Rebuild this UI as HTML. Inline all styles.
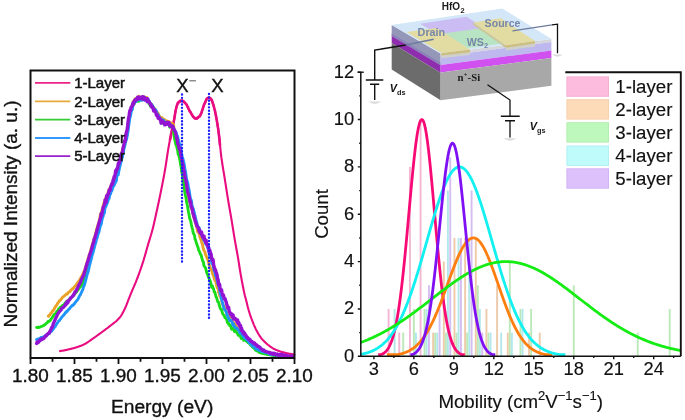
<!DOCTYPE html>
<html><head><meta charset="utf-8"><title>PL spectra and mobility histogram</title>
<style>html,body{margin:0;padding:0;background:#fff;overflow:hidden}body{width:685px;height:420px;position:relative}</style>
</head><body>
<svg width="685" height="420" viewBox="0 0 685 420" style="position:absolute;left:0;top:0;filter:blur(0.35px)">
<rect width="685" height="420" fill="#fff"/>
<g fill="none" stroke-linejoin="round" stroke-linecap="round">
<path d="M60,351.1 L60.6,351 L61.2,350.9 L61.8,350.8 L62.4,350.7 L63,350.6 L63.6,350.5 L64.2,350.4 L64.8,350.2 L65.4,350.1 L66,350 L66.6,349.9 L67.2,349.7 L67.8,349.6 L68.4,349.4 L69,349.3 L69.6,349.2 L70.2,349 L70.8,348.9 L71.4,348.7 L72,348.5 L72.6,348.4 L73.2,348.2 L73.8,348.1 L74.4,347.9 L75,347.7 L75.6,347.5 L76.2,347.4 L76.8,347.2 L77.4,347 L78,346.8 L78.6,346.6 L79.2,346.4 L79.8,346.1 L80.4,345.9 L81,345.7 L81.6,345.5 L82.2,345.2 L82.8,345 L83.4,344.7 L84,344.4 L84.6,344.1 L85.2,343.8 L85.8,343.5 L86.4,343.1 L87,342.7 L87.6,342.3 L88.2,341.9 L88.8,341.5 L89.4,341.1 L90,340.7 L90.6,340.2 L91.2,339.8 L91.8,339.4 L92.4,338.9 L93,338.5 L93.6,338.1 L94.2,337.7 L94.8,337.3 L95.4,336.8 L96,336.4 L96.6,336 L97.2,335.5 L97.8,335.1 L98.4,334.7 L99,334.2 L99.6,333.8 L100.2,333.4 L100.8,332.9 L101.4,332.5 L102,332 L102.6,331.6 L103.2,331.2 L103.8,330.7 L104.4,330.3 L105,329.8 L105.6,329.4 L106.2,328.9 L106.8,328.5 L107.4,328 L108,327.6 L108.6,327.1 L109.2,326.6 L109.8,326.2 L110.4,325.7 L111,325.2 L111.6,324.7 L112.2,324.3 L112.8,323.8 L113.4,323.4 L114,322.9 L114.6,322.4 L115.2,322 L115.8,321.5 L116.4,321 L117,320.4 L117.6,319.8 L118.2,319.2 L118.8,318.6 L119.4,317.9 L120,317.2 L120.6,316.4 L121.2,315.5 L121.8,314.5 L122.4,313.5 L123,312.3 L123.6,311.2 L124.2,310 L124.8,308.8 L125.4,307.5 L126,306.1 L126.6,304.7 L127.2,303.1 L127.8,301.5 L128.4,299.9 L129,298.3 L129.6,296.8 L130.2,295.3 L130.8,293.8 L131.4,292.4 L132,291 L132.6,289.6 L133.2,288.2 L133.8,286.8 L134.4,285.4 L135,284 L135.6,282.6 L136.2,281.1 L136.8,279.5 L137.4,278 L138,276.4 L138.6,274.8 L139.2,273.1 L139.8,271.5 L140.4,269.8 L141,268 L141.6,266.3 L142.2,264.5 L142.8,262.6 L143.4,260.8 L144,258.8 L144.6,256.8 L145.2,254.7 L145.8,252.6 L146.4,250.5 L147,248.3 L147.6,246.2 L148.2,244.1 L148.8,242.1 L149.4,240.1 L150,238.2 L150.6,236.2 L151.2,234.3 L151.8,232.2 L152.4,230 L153,227.7 L153.6,225.2 L154.2,222.6 L154.8,220 L155.4,217.3 L156,214.6 L156.6,211.8 L157.2,209.1 L157.8,206.3 L158.4,203.5 L159,200.7 L159.6,197.8 L160.2,194.9 L160.8,192 L161.4,189 L162,186 L162.6,182.9 L163.2,179.8 L163.8,176.7 L164.4,173.4 L165,170 L165.6,166.4 L166.2,162.5 L166.8,158.5 L167.4,154.5 L168,150.7 L168.6,147.1 L169.2,143.8 L169.8,140.8 L170.4,137.8 L171,134.9 L171.6,131.9 L172.2,129 L172.8,126.1 L173.4,123.2 L174,120.2 L174.6,116.9 L175.2,113.2 L175.8,109.7 L176.4,107.3 L177,105.5 L177.6,104 L178.2,102.8 L178.8,102.3 L179.4,101.8 L180,101.5 L180.6,101.2 L181.2,101 L181.8,100.9 L182.4,100.9 L183,101.1 L183.6,101.5 L184.2,102 L184.8,102.6 L185.4,103.3 L186,104 L186.6,104.8 L187.2,105.9 L187.8,107.2 L188.4,108.4 L189,109.6 L189.6,110.8 L190.2,111.7 L190.8,112.7 L191.4,113.7 L192,114.7 L192.6,115.7 L193.2,116.6 L193.8,117.4 L194.4,118 L195,118.4 L195.6,118.6 L196.2,118.5 L196.8,118.4 L197.4,118 L198,117.6 L198.6,117.1 L199.2,116.5 L199.8,115.9 L200.4,115.1 L201,113.9 L201.6,112.3 L202.2,110.4 L202.8,108.5 L203.4,106.6 L204,105 L204.6,103.6 L205.2,102.2 L205.8,100.8 L206.4,99.5 L207,98.5 L207.6,98 L208.2,97.9 L208.8,98 L209.4,98.1 L210,98.3 L210.6,98.6 L211.2,99.1 L211.8,100.3 L212.4,101.9 L213,103.8 L213.6,105.7 L214.2,107.8 L214.8,110.3 L215.4,113.1 L216,116.1 L216.6,119.2 L217.2,122.7 L217.8,126.5 L218.4,130.7 L219,135.6 L219.6,141.2 L220.2,146.9 L220.8,152.5 L221.4,157.5 L222,161.7 L222.6,165.6 L223.2,169.3 L223.8,172.9 L224.4,176.5 L225,180.3 L225.6,184.1 L226.2,188 L226.8,191.9 L227.4,195.7 L228,199.4 L228.6,203 L229.2,206.4 L229.8,209.8 L230.4,213.2 L231,216.6 L231.6,220.2 L232.2,223.9 L232.8,227.6 L233.4,231.4 L234,235.1 L234.6,238.7 L235.2,242.1 L235.8,245.4 L236.4,248.7 L237,252 L237.6,255.4 L238.2,258.9 L238.8,262.6 L239.4,266.5 L240,270.3 L240.6,273.9 L241.2,277.3 L241.8,280.6 L242.4,283.8 L243,286.8 L243.6,289.8 L244.2,292.6 L244.8,295.2 L245.4,297.5 L246,299.7 L246.6,302.1 L247.2,304.6 L247.8,307.1 L248.4,309.3 L249,311.3 L249.6,313.2 L250.2,315.1 L250.8,316.8 L251.4,318.5 L252,320.1 L252.6,321.6 L253.2,323.1 L253.8,324.6 L254.4,326 L255,327.3 L255.6,328.6 L256.2,329.8 L256.8,330.9 L257.4,332.1 L258,333.1 L258.6,334.2 L259.2,335.2 L259.8,336.1 L260.4,337 L261,337.8 L261.6,338.6 L262.2,339.3 L262.8,340 L263.4,340.6 L264,341.2 L264.6,341.8 L265.2,342.4 L265.8,342.9 L266.4,343.5 L267,344 L267.6,344.5 L268.2,345 L268.8,345.4 L269.4,345.9 L270,346.4 L270.6,346.8 L271.2,347.2 L271.8,347.6 L272.4,348 L273,348.4 L273.6,348.7 L274.2,349.1 L274.8,349.3 L275.4,349.6 L276,349.9 L276.6,350.1 L277.2,350.4 L277.8,350.6 L278.4,350.8 L279,351.1 L279.6,351.3 L280.2,351.5 L280.8,351.7 L281.4,351.8 L282,352 L282.6,352.2 L283.2,352.3 L283.8,352.5 L284.4,352.6 L285,352.8 L285.6,352.9 L286.2,353.1 L286.8,353.2 L287.4,353.3 L288,353.5 L288.6,353.6 L289.2,353.7 L289.8,353.8 L290.4,353.9 L291,354 L291.6,354.1 L292.2,354.2 L292.8,354.3 L293.4,354.4 L294,354.5 L294.3,354.5" stroke="#E90C80" stroke-width="2.1"/>
<path d="M170,139.8 L170.4,137.9 L170.8,135.8 L171.2,133.6 L171.6,131.8 L172,129.6 L172.4,128 L172.8,126.5 L173.2,124 L173.6,122 L174,120.3 L174.4,118.2 L174.8,115.7 L175.2,112.9 L175.6,110.8 L176,109 L176.4,106.9 L176.8,105.9 L177.2,104.4 L177.6,103.6 L178,102.6 L178.4,102.5 L178.8,101.9 L179.2,102.1 L179.6,101.8 L180,101.4 L180.4,100.5 L180.8,101 L181.2,101 L181.6,101 L182,100.4 L182.4,100.8 L182.8,100.8 L183.2,101 L183.6,101.9 L184,101.6 L184.4,102.2 L184.8,102.9 L185.2,102.9 L185.6,103.5 L186,104 L186.4,104.5 L186.8,104.8 L187.2,106 L187.6,107.1 L188,107.1 L188.4,108.7 L188.8,109.3 L189.2,109.8 L189.6,111.4 L190,111.6 L190.4,111.7 L190.8,112.7 L191.2,113.5 L191.6,114 L192,114.9 L192.4,115.3 L192.8,116.2 L193.2,117 L193.6,116.9 L194,117.7 L194.4,117.9 L194.8,118.3 L195.2,118.1 L195.6,118.4 L196,118.5 L196.4,118.8 L196.8,118.7 L197.2,117.8 L197.6,117.7 L198,117.8 L198.4,116.7 L198.8,116.8 L199.2,116.5 L199.6,116.5 L200,115.9 L200.4,115 L200.8,114.2 L201.2,113.3 L201.6,112.7 L202,110.9 L202.4,109.7 L202.8,108.6 L203.2,107.2 L203.6,106 L204,104.7 L204.4,104.1 L204.8,103 L205.2,102.6 L205.6,101.5 L206,100.4 L206.4,99.7 L206.8,98.7 L207.2,98.6 L207.6,98 L208,98.1 L208.4,97.5 L208.8,98.1 L209.2,97.6 L209.6,97.6 L210,98.2 L210.4,98.2 L210.8,98.7 L211.2,99.8 L211.6,99.6 L212,100.6 L212.4,101.9 L212.8,103.3 L213.2,104.4 L213.6,105.6 L214,107.3 L214.4,108.8 L214.8,110 L215.2,112.1 L215.6,114.1 L216,115.8 L216.4,118.2 L216.8,120.1 L217.2,123 L217.6,125.3 L218,127.9 L218.4,130.6 L218.8,133.9 L219.2,136.8 L219.6,140.8 L220,145.1" stroke="#E90C80" stroke-width="2.6"/>
<path d="M48.2,316.2 L48.8,316.3 L49.4,314.8 L50,314.8 L50.6,313.5 L51.2,313.2 L51.8,312.2 L52.4,310.9 L53,310.9 L53.6,310.1 L54.2,308.8 L54.8,307.8 L55.4,306.9 L56,305.8 L56.6,305.4 L57.2,304 L57.8,303.3 L58.4,302.3 L59,301.5 L59.6,300.6 L60.2,300.5 L60.8,299.4 L61.4,299 L62,298.1 L62.6,297.3 L63.2,296.9 L63.8,296.3 L64.4,295.9 L65,295.3 L65.6,294.9 L66.2,294.1 L66.8,293.8 L67.4,294 L68,292.8 L68.6,292.2 L69.2,292 L69.8,291.8 L70.4,290.5 L71,290.3 L71.6,289.6 L72.2,288.7 L72.8,288.8 L73.4,288 L74,287.4 L74.6,286.5 L75.2,286.2 L75.8,285.2 L76.4,284.6 L77,283.5 L77.6,282.7 L78.2,282.5 L78.8,281.1 L79.4,280.3 L80,279.3 L80.6,278.1 L81.2,277.1 L81.8,276.3 L82.4,274.9 L83,273.7 L83.6,272.4 L84.2,271.3 L84.8,269.6 L85.4,267.7 L86,265.5 L86.6,263.3 L87.2,261.9 L87.8,259.9 L88.4,257.7 L89,255.8 L89.6,253.9 L90.2,251.9 L90.8,249.8 L91.4,247.4 L92,245.8 L92.6,243 L93.2,241.6 L93.8,239.4 L94.4,237.5 L95,235.8 L95.6,233.7 L96.2,230.9 L96.8,228.7 L97.4,227.3 L98,224.7 L98.6,222.8 L99.2,220.8 L99.8,217.8 L100.4,214.3 L101,213.9 L101.6,211.5 L102.2,209.1 L102.8,207.4 L103.4,204.8 L104,202.5 L104.6,201.9 L105.2,199.7 L105.8,197.6 L106.4,197.8 L107,195.8 L107.6,194.6 L108.2,192 L108.8,190.8 L109.4,189 L110,187.7 L110.6,187.1 L111.2,184.9 L111.8,184.3 L112.4,182.9 L113,182.7 L113.6,178.4 L114.2,178.7 L114.8,176.3 L115.4,174.7 L116,171.9 L116.6,171 L117.2,170.2 L117.8,167.8 L118.4,166.1 L119,163.9 L119.6,163.1 L120.2,160.1 L120.8,156.2 L121.4,155.2 L122,151.9 L122.6,148.5 L123.2,148.2 L123.8,147.3 L124.4,143.8 L125,140.3 L125.6,137.9 L126.2,136.8 L126.8,133 L127.4,129.5 L128,125.2 L128.6,120.8 L129.2,117.7 L129.8,114.6 L130.4,111.7 L131,108.3 L131.6,107.5 L132.2,104.8 L132.8,104.6 L133.4,101.3 L134,100.9 L134.6,100.2 L135.2,98.7 L135.8,100.8 L136.4,100.3 L137,98.6 L137.6,99.4 L138.2,98.9 L138.8,96.3 L139.4,98.5 L140,98.1 L140.6,98.1 L141.2,97 L141.8,97.5 L142.4,97.4 L143,98.3 L143.6,97.4 L144.2,97.1 L144.8,98.5 L145.4,97.2 L146,97.8 L146.6,97.3 L147.2,100.5 L147.8,100.7 L148.4,101.3 L149,101.9 L149.6,102.3 L150.2,103.1 L150.8,103.6 L151.4,104.4 L152,105.4 L152.6,107.5 L153.2,107.5 L153.8,107.9 L154.4,108.3 L155,109.1 L155.6,111.7 L156.2,111.7 L156.8,112.2 L157.4,112.7 L158,112.9 L158.6,114.6 L159.2,116.3 L159.8,116.3 L160.4,117.3 L161,118 L161.6,118.7 L162.2,117.8 L162.8,119.2 L163.4,119 L164,120.7 L164.6,119.6 L165.2,121 L165.8,122 L166.4,120.8 L167,120.9 L167.6,121.8 L168.2,121.9 L168.8,121.4 L169.4,122.9 L170,124.5 L170.6,123 L171.2,123.4 L171.8,123.1 L172.4,124.7 L173,124 L173.6,125 L174.2,129.1 L174.8,130.4 L175.4,134.6 L176,137.7 L176.6,139.5 L177.2,142.3 L177.8,145.9 L178.4,146.6 L179,148.7 L179.6,150.6 L180.2,154.2 L180.8,157.9 L181.4,160.2 L182,161.8 L182.6,165.2 L183.2,168.7 L183.8,172.5 L184.4,175.3 L185,178.8 L185.6,181.9 L186.2,184.5 L186.8,187.8 L187.4,191 L188,193.6 L188.6,196.9 L189.2,200.7 L189.8,202.2 L190.4,204.2 L191,205.1 L191.6,209.1 L192.2,209.5 L192.8,212.1 L193.4,216.2 L194,218.2 L194.6,219.7 L195.2,220.5 L195.8,223.7 L196.4,225.5 L197,228.5 L197.6,231.8 L198.2,232 L198.8,233.1 L199.4,234.7 L200,237.4 L200.6,239.1 L201.2,240.2 L201.8,243 L202.4,243.8 L203,247.4 L203.6,249.2 L204.2,251 L204.8,251.5 L205.4,254.1 L206,255.4 L206.6,256.9 L207.2,258.7 L207.8,259.7 L208.4,261.2 L209,264.7 L209.6,265.5 L210.2,267.4 L210.8,269.6 L211.4,269 L212,271.3 L212.6,273.7 L213.2,275.5 L213.8,276.6 L214.4,279.4 L215,280.6 L215.6,281.2 L216.2,283.3 L216.8,286.5 L217.4,288.1 L218,288 L218.6,292.4 L219.2,293.7 L219.8,296.1 L220.4,296.6 L221,298.4 L221.6,299.4 L222.2,303.9 L222.8,303.3 L223.4,306.3 L224,306 L224.6,308.1 L225.2,308 L225.8,310.3 L226.4,312.7 L227,312.1 L227.6,315.2 L228.2,315.7 L228.8,315.7 L229.4,317.1 L230,318.1 L230.6,319.4 L231.2,319.8 L231.8,320.4 L232.4,321.6 L233,321.8 L233.6,322.3 L234.2,324.1 L234.8,325.5 L235.4,324.3 L236,326.3 L236.6,326.5 L237.2,327 L237.8,329.2 L238.4,328.9 L239,331.2 L239.6,330.2 L240.2,331.9 L240.8,332.2 L241.4,332.5 L242,334.3 L242.6,334.5 L243.2,335.8 L243.8,336 L244.4,335.9 L245,337.4 L245.6,338.1 L246.2,339 L246.8,339.2 L247.4,340.1 L248,340.3 L248.6,341.6 L249.2,341.8 L249.8,342.2 L250.4,343.3 L251,344.2 L251.6,344 L252.2,344.7 L252.8,345.3 L253.4,345.7 L254,346.6 L254.6,346.7 L255.2,347.2 L255.8,348 L256.4,348 L257,348.7 L257.6,348.7 L258.2,349 L258.8,349.2 L259.4,350.5 L260,350.2 L260.6,350.7 L261.2,350.9 L261.8,351.2 L262.4,351.4 L263,352.1 L263.6,351.5 L264.2,351.5 L264.8,351.9 L265.4,352 L266,352.8 L266.6,353 L267.2,352.6 L267.8,352.7 L268.4,353.1 L269,353.8 L269.6,352.7 L270.2,353.8 L270.8,353.5 L271.4,354.2 L272,353.7 L272.6,354.1 L273.2,353.8 L273.8,354.1 L274.4,354.9 L275,354.8 L275.6,354.6 L276.2,354.5 L276.8,354.3 L277.4,354.8 L278,355 L278.6,355.1 L279.2,355.2 L279.8,355 L280.4,355.4 L281,355.5 L281.6,355.9 L282.2,356.2 L282.8,355.7 L283.4,355.6 L284,355.9 L284.6,355.8 L285.2,355.8 L285.8,356.1 L286.4,355.9 L287,356.4 L287.6,356.3 L288.2,356.4 L288.8,356.3 L289.4,356.2 L290,356.2 L290.6,356.4 L291.2,356.4 L291.8,356.6 L292.4,356.6 L293,356.2 L293,356.6" stroke="#EAA226" stroke-width="2.85"/>
<path d="M36.6,327.4 L37.2,327.6 L37.8,327.6 L38.4,327 L39,327.5 L39.6,327.3 L40.2,327 L40.8,326.7 L41.4,326.5 L42,326.1 L42.6,326.1 L43.2,325.7 L43.8,325.5 L44.4,324.7 L45,324.7 L45.6,324.1 L46.2,323.5 L46.8,322.9 L47.4,322.6 L48,321.5 L48.6,321.7 L49.2,321.2 L49.8,320.8 L50.4,320.2 L51,319.1 L51.6,318.4 L52.2,317.7 L52.8,316.8 L53.4,315.9 L54,314.7 L54.6,314.5 L55.2,314 L55.8,313.2 L56.4,312.3 L57,311.1 L57.6,311 L58.2,310 L58.8,308.6 L59.4,308.8 L60,307.6 L60.6,307 L61.2,306.6 L61.8,306.6 L62.4,305.5 L63,305.2 L63.6,305 L64.2,304.4 L64.8,303.4 L65.4,302.9 L66,302 L66.6,301.7 L67.2,301.4 L67.8,300.9 L68.4,300.2 L69,299.9 L69.6,298.8 L70.2,298.5 L70.8,298.1 L71.4,297.5 L72,297 L72.6,296.3 L73.2,295.5 L73.8,295 L74.4,294 L75,293.1 L75.6,293.1 L76.2,292.2 L76.8,291.6 L77.4,290.4 L78,290 L78.6,289.2 L79.2,288.3 L79.8,287.1 L80.4,286.7 L81,286.1 L81.6,284.9 L82.2,283.5 L82.8,282.4 L83.4,281.2 L84,278.7 L84.6,277.9 L85.2,276.4 L85.8,274.8 L86.4,273.3 L87,271.2 L87.6,268.9 L88.2,266.7 L88.8,264.6 L89.4,262 L90,260 L90.6,258.1 L91.2,256.3 L91.8,253.6 L92.4,251.5 L93,249.4 L93.6,247.6 L94.2,245.1 L94.8,243.3 L95.4,240.5 L96,238.6 L96.6,236.5 L97.2,234.6 L97.8,232.5 L98.4,229.6 L99,227.6 L99.6,225.7 L100.2,222.8 L100.8,219.8 L101.4,219.4 L102,216.6 L102.6,214.2 L103.2,211.2 L103.8,210.2 L104.4,207.1 L105,206.3 L105.6,202.9 L106.2,201.2 L106.8,200.4 L107.4,198 L108,197.5 L108.6,195.6 L109.2,193.1 L109.8,192.2 L110.4,190.3 L111,189.8 L111.6,187 L112.2,185.6 L112.8,185.4 L113.4,184.7 L114,182.9 L114.6,179.7 L115.2,178.1 L115.8,177.4 L116.4,174.2 L117,171.7 L117.6,170.6 L118.2,169 L118.8,165.9 L119.4,163.3 L120,161.4 L120.6,160.9 L121.2,157.6 L121.8,155.8 L122.4,153.8 L123,151.8 L123.6,148.6 L124.2,146.8 L124.8,143.2 L125.4,141.1 L126,137.9 L126.6,136.7 L127.2,132.7 L127.8,128.2 L128.4,124.1 L129,120 L129.6,117.6 L130.2,112.9 L130.8,110.9 L131.4,109.2 L132,109.6 L132.6,106.7 L133.2,104.3 L133.8,103.6 L134.4,103.6 L135,101.1 L135.6,100.6 L136.2,101.6 L136.8,100.8 L137.4,100.8 L138,99.7 L138.6,101.4 L139.2,101.1 L139.8,100 L140.4,100 L141,97.7 L141.6,99.7 L142.2,98.8 L142.8,99.1 L143.4,99.2 L144,98.2 L144.6,97.2 L145.2,99.1 L145.8,98.7 L146.4,99.6 L147,99.9 L147.6,100.7 L148.2,99.8 L148.8,103.4 L149.4,103.4 L150,104.9 L150.6,106.4 L151.2,105.6 L151.8,104.9 L152.4,106.4 L153,107 L153.6,108.4 L154.2,109.8 L154.8,109.1 L155.4,112.1 L156,111.7 L156.6,114.3 L157.2,115 L157.8,115.9 L158.4,117 L159,117.6 L159.6,118.5 L160.2,118.5 L160.8,120.6 L161.4,122.7 L162,123.2 L162.6,123.1 L163.2,122.9 L163.8,122.1 L164.4,124.1 L165,123.1 L165.6,123.4 L166.2,123.5 L166.8,124.1 L167.4,123.9 L168,124.5 L168.6,124 L169.2,124.8 L169.8,127.3 L170.4,125.8 L171,125.9 L171.6,126.7 L172.2,127.2 L172.8,126.3 L173.4,128 L174,135.7 L174.6,139.1 L175.2,141.6 L175.8,144.7 L176.4,145 L177,148.2 L177.6,150.4 L178.2,154.6 L178.8,154.4 L179.4,158 L180,160.7 L180.6,164.5 L181.2,167.8 L181.8,172.3 L182.4,174.2 L183,180.3 L183.6,183.5 L184.2,187.3 L184.8,192.4 L185.4,195.2 L186,197.8 L186.6,202.3 L187.2,204.4 L187.8,208 L188.4,211.6 L189,214.3 L189.6,218.2 L190.2,219.6 L190.8,221.4 L191.4,224.8 L192,227.3 L192.6,229.4 L193.2,232.9 L193.8,234.1 L194.4,235 L195,239 L195.6,240.2 L196.2,242.4 L196.8,244 L197.4,246.1 L198,247.3 L198.6,249.9 L199.2,250.9 L199.8,252.5 L200.4,254.3 L201,254.5 L201.6,257.3 L202.2,259.1 L202.8,261.3 L203.4,261.8 L204,266 L204.6,266.6 L205.2,267.3 L205.8,268.7 L206.4,271.5 L207,273.3 L207.6,274.4 L208.2,276.5 L208.8,277.5 L209.4,279.9 L210,280.4 L210.6,282.4 L211.2,284.7 L211.8,287.4 L212.4,285.9 L213,287.8 L213.6,289 L214.2,291.9 L214.8,292.1 L215.4,294.4 L216,296.7 L216.6,297.8 L217.2,299.7 L217.8,301.8 L218.4,302.1 L219,304.1 L219.6,306.3 L220.2,308.1 L220.8,309.2 L221.4,309.2 L222,311.4 L222.6,313.6 L223.2,314.6 L223.8,315.2 L224.4,315.6 L225,317.9 L225.6,318 L226.2,318.5 L226.8,319.8 L227.4,322.6 L228,322.5 L228.6,324.2 L229.2,323.8 L229.8,325.8 L230.4,325.3 L231,326.5 L231.6,329.3 L232.2,328.7 L232.8,328.3 L233.4,329.3 L234,330.3 L234.6,331.6 L235.2,330.8 L235.8,330.4 L236.4,332.2 L237,333 L237.6,333.6 L238.2,335.1 L238.8,334.8 L239.4,335.8 L240,334.8 L240.6,336.9 L241.2,338.5 L241.8,337.9 L242.4,338 L243,338.5 L243.6,340.3 L244.2,338.6 L244.8,339.7 L245.4,340.4 L246,341 L246.6,341.2 L247.2,341.9 L247.8,342.3 L248.4,342.9 L249,343.3 L249.6,343.6 L250.2,344.5 L250.8,345.3 L251.4,345.5 L252,346.3 L252.6,347.2 L253.2,347.3 L253.8,348.2 L254.4,348.4 L255,349.5 L255.6,350.3 L256.2,350.6 L256.8,350.4 L257.4,351.1 L258,351.3 L258.6,351.7 L259.2,352.4 L259.8,351.9 L260.4,352.8 L261,352.7 L261.6,353.3 L262.2,353.1 L262.8,353.1 L263.4,353.5 L264,353.8 L264.6,353.7 L265.2,354 L265.8,353.8 L266.4,353.5 L267,354.5 L267.6,354.5 L268.2,354.5 L268.8,354.5 L269.4,354.9 L270,354.6 L270.6,354.6 L271.2,354.8 L271.8,355.3 L272.4,354.7 L273,355.5 L273.6,355 L274.2,355 L274.8,355.7 L275.4,355.4 L276,355.2 L276.6,355.5 L277.2,355.9 L277.8,356.1 L278.4,355.7 L279,356 L279.6,356.2 L280.2,355.9 L280.8,356.2 L281.4,356.2 L282,356.1 L282.6,356.2 L283.2,356.4 L283.8,356.4 L284.4,356.3 L285,356.4 L285.6,356.9 L286.2,356.7 L286.8,356.9 L287.4,357.1 L288,356.9 L288.6,357.5 L289.2,356.6 L289.8,357.1 L290.4,356.8 L291,357.5 L291.6,357.4 L292.2,356.4 L292.8,356.7 L293,357.2" stroke="#18DC18" stroke-width="2.85"/>
<path d="M36.6,339.5 L37.2,339.4 L37.8,339 L38.4,339 L39,338.9 L39.6,338.5 L40.2,338.6 L40.8,337.4 L41.4,338 L42,337.3 L42.6,337.6 L43.2,337 L43.8,336.5 L44.4,336.6 L45,335.8 L45.6,335.5 L46.2,334.9 L46.8,334.9 L47.4,334.6 L48,334.3 L48.6,333.5 L49.2,333.4 L49.8,332.6 L50.4,332 L51,331.6 L51.6,331.2 L52.2,330.2 L52.8,329.5 L53.4,328.8 L54,328 L54.6,326.9 L55.2,326.6 L55.8,325.2 L56.4,324.6 L57,323.3 L57.6,322.7 L58.2,321.8 L58.8,320.8 L59.4,320.6 L60,319.4 L60.6,319.1 L61.2,318.1 L61.8,317 L62.4,316.4 L63,315.9 L63.6,315.2 L64.2,314.5 L64.8,313.8 L65.4,312.7 L66,312.5 L66.6,311.3 L67.2,311.4 L67.8,310.4 L68.4,309.7 L69,309.2 L69.6,308.7 L70.2,307.6 L70.8,306.9 L71.4,306.5 L72,305.6 L72.6,305.3 L73.2,305.3 L73.8,304 L74.4,303.8 L75,302.5 L75.6,302.2 L76.2,301.3 L76.8,300.6 L77.4,299.9 L78,299.3 L78.6,297.9 L79.2,296.8 L79.8,295.4 L80.4,294.7 L81,293.2 L81.6,292.2 L82.2,290.6 L82.8,289.7 L83.4,287.2 L84,286 L84.6,284.5 L85.2,282.1 L85.8,279.8 L86.4,277.7 L87,275.1 L87.6,273.3 L88.2,271.7 L88.8,269 L89.4,266 L90,263.6 L90.6,261.4 L91.2,259.4 L91.8,256.7 L92.4,254.5 L93,252.8 L93.6,250.7 L94.2,248.2 L94.8,245.9 L95.4,243.7 L96,241.8 L96.6,239.2 L97.2,237.9 L97.8,235.3 L98.4,233.5 L99,231.7 L99.6,229.3 L100.2,225.9 L100.8,225.4 L101.4,223.5 L102,219.8 L102.6,217.5 L103.2,216.1 L103.8,212.7 L104.4,213.1 L105,208 L105.6,207.1 L106.2,205.9 L106.8,204.1 L107.4,202.7 L108,201.1 L108.6,199 L109.2,198.5 L109.8,194.3 L110.4,194.4 L111,192.2 L111.6,191.3 L112.2,189.9 L112.8,187.5 L113.4,186.2 L114,185.9 L114.6,184 L115.2,181.6 L115.8,182.2 L116.4,180.6 L117,175.8 L117.6,175.2 L118.2,175 L118.8,171.5 L119.4,168.8 L120,166.2 L120.6,163.6 L121.2,161.5 L121.8,158.8 L122.4,157.3 L123,153.7 L123.6,151 L124.2,147.7 L124.8,146 L125.4,142.7 L126,140.8 L126.6,139.2 L127.2,135.8 L127.8,132.8 L128.4,128.8 L129,124.1 L129.6,119.8 L130.2,116.5 L130.8,114.5 L131.4,110.5 L132,110.2 L132.6,107.3 L133.2,105 L133.8,103.7 L134.4,102.2 L135,101.8 L135.6,100.4 L136.2,101.6 L136.8,99.7 L137.4,98.3 L138,99.4 L138.6,98.2 L139.2,99.6 L139.8,100.3 L140.4,99.8 L141,98.1 L141.6,98.4 L142.2,100.3 L142.8,98.9 L143.4,98.5 L144,99.2 L144.6,100.2 L145.2,99.3 L145.8,98.6 L146.4,99.2 L147,100 L147.6,99.6 L148.2,99.8 L148.8,101.4 L149.4,101.3 L150,102.8 L150.6,103.7 L151.2,106.3 L151.8,104.6 L152.4,105.9 L153,106.7 L153.6,108 L154.2,109.4 L154.8,109.1 L155.4,109.8 L156,110.2 L156.6,111.9 L157.2,114.2 L157.8,114.9 L158.4,115 L159,116.5 L159.6,117.8 L160.2,119.1 L160.8,119.1 L161.4,120.1 L162,119.5 L162.6,120.4 L163.2,123 L163.8,120.3 L164.4,122.1 L165,122.8 L165.6,122.6 L166.2,122.5 L166.8,123.4 L167.4,123.7 L168,123.9 L168.6,122.8 L169.2,124.4 L169.8,124.2 L170.4,124.7 L171,125.7 L171.6,126.4 L172.2,127 L172.8,126.4 L173.4,128.1 L174,128.9 L174.6,129.7 L175.2,131.2 L175.8,131.6 L176.4,133.3 L177,135.9 L177.6,136.1 L178.2,139.5 L178.8,141.1 L179.4,143.5 L180,144.9 L180.6,148 L181.2,151.2 L181.8,154.5 L182.4,157.1 L183,158.9 L183.6,161.7 L184.2,164.2 L184.8,168.3 L185.4,171 L186,175 L186.6,179.3 L187.2,181.1 L187.8,183.1 L188.4,186.8 L189,189.4 L189.6,192.7 L190.2,197.5 L190.8,199.4 L191.4,200.5 L192,204.7 L192.6,207.6 L193.2,208.6 L193.8,210.5 L194.4,213 L195,215.7 L195.6,218.1 L196.2,220.7 L196.8,222.8 L197.4,224.8 L198,226.8 L198.6,228 L199.2,227.8 L199.8,230.4 L200.4,232.2 L201,232.9 L201.6,235.2 L202.2,235.5 L202.8,236.3 L203.4,239.5 L204,240.1 L204.6,241 L205.2,242.8 L205.8,244.2 L206.4,245 L207,244.4 L207.6,247.5 L208.2,249.6 L208.8,251.1 L209.4,254 L210,256.9 L210.6,257.5 L211.2,259 L211.8,263.6 L212.4,263.7 L213,265.1 L213.6,268.4 L214.2,270.7 L214.8,271.9 L215.4,275.2 L216,276.3 L216.6,278 L217.2,280.9 L217.8,283.4 L218.4,284.4 L219,287.3 L219.6,289.3 L220.2,294.3 L220.8,294.4 L221.4,299.1 L222,300.8 L222.6,303.2 L223.2,305.8 L223.8,307.6 L224.4,309.4 L225,310 L225.6,310.6 L226.2,311.9 L226.8,314.1 L227.4,315.4 L228,317.4 L228.6,317.8 L229.2,319.5 L229.8,320.9 L230.4,320.7 L231,320.3 L231.6,321.3 L232.2,321.9 L232.8,325 L233.4,323.8 L234,326.1 L234.6,326.3 L235.2,327.8 L235.8,327.9 L236.4,327.7 L237,328.3 L237.6,329.3 L238.2,330.1 L238.8,330.2 L239.4,331.3 L240,333.4 L240.6,331.4 L241.2,333.7 L241.8,333.5 L242.4,335 L243,336.3 L243.6,336.2 L244.2,337.6 L244.8,336.4 L245.4,338.6 L246,338.8 L246.6,339.7 L247.2,340.3 L247.8,340.2 L248.4,341.3 L249,342.2 L249.6,343.2 L250.2,343.5 L250.8,344.1 L251.4,344.2 L252,345.6 L252.6,346.2 L253.2,346.3 L253.8,346.7 L254.4,346.7 L255,347.8 L255.6,348.8 L256.2,348.6 L256.8,349.2 L257.4,349.3 L258,349.3 L258.6,350.3 L259.2,349.9 L259.8,350.5 L260.4,350.9 L261,351.3 L261.6,351.5 L262.2,351.7 L262.8,351.6 L263.4,351.6 L264,352.2 L264.6,352.2 L265.2,352.2 L265.8,352.4 L266.4,352.8 L267,352.6 L267.6,352.9 L268.2,352.9 L268.8,353.6 L269.4,353.8 L270,354.4 L270.6,353.5 L271.2,353.9 L271.8,354.5 L272.4,354.3 L273,354.3 L273.6,355 L274.2,354.5 L274.8,354.4 L275.4,354.5 L276,355 L276.6,355.1 L277.2,354.7 L277.8,354.9 L278.4,355.5 L279,355.6 L279.6,355.3 L280.2,355.7 L280.8,355.8 L281.4,355.2 L282,355.7 L282.6,356 L283.2,355.8 L283.8,355.5 L284.4,356.1 L285,356.4 L285.6,356.7 L286.2,355.7 L286.8,357.1 L287.4,356.1 L288,356.8 L288.6,356.9 L289.2,356.9 L289.8,356.7 L290.4,356.4 L291,356.9 L291.6,356.5 L292.2,356.1 L292.8,357.6 L293,357" stroke="#1E94FA" stroke-width="2.85"/>
<path d="M36.6,343.5 L37.1,342.1 L37.6,342.8 L38.1,342.5 L38.6,342.1 L39.1,341.2 L39.6,340.4 L40.1,340.5 L40.6,339.3 L41.1,339.2 L41.6,339.5 L42.1,338.7 L42.6,338.7 L43.1,338.3 L43.6,338.7 L44.1,338 L44.6,337.1 L45.1,337.1 L45.6,335.9 L46.1,335.7 L46.6,335.7 L47.1,334.4 L47.6,334.3 L48.1,333.4 L48.6,333.4 L49.1,333.4 L49.6,331.8 L50.1,331.4 L50.6,330.1 L51.1,328.9 L51.6,327.6 L52.1,327.4 L52.6,326.4 L53.1,324.5 L53.6,322.8 L54.1,322.2 L54.6,320.6 L55.1,319.8 L55.6,318.5 L56.1,317.4 L56.6,316.5 L57.1,315.1 L57.6,314.3 L58.1,313.1 L58.6,312.8 L59.1,311.7 L59.6,311.5 L60.1,310.6 L60.6,310.4 L61.1,309.9 L61.6,308.5 L62.1,308.2 L62.6,307.5 L63.1,307.5 L63.6,307.3 L64.1,306.4 L64.6,305.4 L65.1,305.5 L65.6,303.8 L66.1,304.4 L66.6,303 L67.1,301.6 L67.6,303.1 L68.1,302.1 L68.6,300.5 L69.1,300.3 L69.6,299.6 L70.1,299.1 L70.6,297.9 L71.1,297.6 L71.6,297.4 L72.1,296.7 L72.6,296.4 L73.1,295.3 L73.6,295.5 L74.1,293.6 L74.6,293.2 L75.1,291.6 L75.6,291.1 L76.1,291.2 L76.6,289.4 L77.1,289.1 L77.6,287.9 L78.1,286.5 L78.6,285.8 L79.1,284.7 L79.6,283.7 L80.1,283.1 L80.6,281.9 L81.1,280.4 L81.6,279.1 L82.1,278.3 L82.6,277 L83.1,276.1 L83.6,275.5 L84.1,273.4 L84.6,271.7 L85.1,270.2 L85.6,268.4 L86.1,266.7 L86.6,265 L87.1,263.6 L87.6,261.9 L88.1,260.6 L88.6,258.5 L89.1,256.9 L89.6,254.8 L90.1,254.3 L90.6,252.1 L91.1,250.9 L91.6,248.8 L92.1,247.4 L92.6,245 L93.1,243.6 L93.6,242.7 L94.1,239.5 L94.6,238.7 L95.1,237.3 L95.6,235.1 L96.1,233.5 L96.6,232 L97.1,229.6 L97.6,228.3 L98.1,226.1 L98.6,224.4 L99.1,222.6 L99.6,220.9 L100.1,219.2 L100.6,217.7 L101.1,213.6 L101.6,215.6 L102.1,212.8 L102.6,210.5 L103.1,207.6 L103.6,206.3 L104.1,205.5 L104.6,203.8 L105.1,200 L105.6,201.4 L106.1,202.5 L106.6,195.7 L107.1,197.6 L107.6,195.6 L108.1,193.7 L108.6,194 L109.1,189.9 L109.6,190.1 L110.1,190.3 L110.6,187.2 L111.1,185.7 L111.6,185 L112.1,183.1 L112.6,184.1 L113.1,180 L113.6,180.6 L114.1,176.8 L114.6,177.5 L115.1,175.1 L115.6,170.8 L116.1,172.1 L116.6,169.3 L117.1,168.4 L117.6,169 L118.1,164.3 L118.6,162.7 L119.1,163.8 L119.6,160.6 L120.1,160.5 L120.6,157.4 L121.1,154.3 L121.6,153.4 L122.1,153 L122.6,150.8 L123.1,147.8 L123.6,145.8 L124.1,143.6 L124.6,141 L125.1,141.7 L125.6,137.2 L126.1,133.5 L126.6,131.6 L127.1,129.8 L127.6,126 L128.1,121.4 L128.6,117.7 L129.1,116 L129.6,111.7 L130.1,110 L130.6,110.5 L131.1,107.3 L131.6,106.8 L132.1,106.4 L132.6,104.5 L133.1,102.7 L133.6,104.1 L134.1,101.7 L134.6,100.2 L135.1,101.1 L135.6,100.5 L136.1,98.9 L136.6,99.8 L137.1,99.4 L137.6,97.2 L138.1,99.1 L138.6,98.8 L139.1,98.5 L139.6,97 L140.1,98.4 L140.6,98.6 L141.1,98.7 L141.6,97.1 L142.1,98.9 L142.6,96.7 L143.1,97.7 L143.6,99.4 L144.1,97.2 L144.6,97.6 L145.1,99.8 L145.6,98.6 L146.1,99.2 L146.6,100.3 L147.1,101.7 L147.6,98.6 L148.1,100.7 L148.6,101.2 L149.1,101.7 L149.6,102.7 L150.1,103.4 L150.6,105.3 L151.1,104.6 L151.6,106.4 L152.1,107.4 L152.6,106.8 L153.1,108.5 L153.6,111 L154.1,110.3 L154.6,110.1 L155.1,111.7 L155.6,111.7 L156.1,113.9 L156.6,115.5 L157.1,114.5 L157.6,115.9 L158.1,118.2 L158.6,117.2 L159.1,118.8 L159.6,118.1 L160.1,119 L160.6,119.9 L161.1,123.2 L161.6,120.7 L162.1,120.9 L162.6,121.1 L163.1,121.8 L163.6,122.9 L164.1,122.6 L164.6,124.9 L165.1,123.1 L165.6,124.7 L166.1,123.7 L166.6,124.3 L167.1,122.2 L167.6,123.9 L168.1,124.2 L168.6,124.3 L169.1,122.5 L169.6,126.1 L170.1,125 L170.6,125.3 L171.1,125.8 L171.6,126.2 L172.1,127.4 L172.6,126 L173.1,127 L173.6,129.1 L174.1,129.9 L174.6,130.4 L175.1,131.5 L175.6,132.6 L176.1,135.1 L176.6,138.5 L177.1,138.2 L177.6,143.2 L178.1,144.5 L178.6,145.2 L179.1,148.7 L179.6,148.4 L180.1,150.3 L180.6,152.9 L181.1,156.1 L181.6,158.6 L182.1,161.1 L182.6,164.7 L183.1,165.1 L183.6,170.7 L184.1,171.3 L184.6,174.8 L185.1,177.7 L185.6,179.4 L186.1,181.7 L186.6,184.7 L187.1,188.3 L187.6,191.5 L188.1,193.9 L188.6,194.6 L189.1,197 L189.6,198.9 L190.1,202.4 L190.6,201.6 L191.1,207.1 L191.6,207 L192.1,208.4 L192.6,211.3 L193.1,213.8 L193.6,214.7 L194.1,217.2 L194.6,217.9 L195.1,220.8 L195.6,222.5 L196.1,222.6 L196.6,225.8 L197.1,225.9 L197.6,227.1 L198.1,227.2 L198.6,229 L199.1,231.2 L199.6,229.8 L200.1,232.9 L200.6,233.4 L201.1,234.1 L201.6,232.2 L202.1,235.3 L202.6,237 L203.1,236.3 L203.6,238.1 L204.1,236.2 L204.6,240.4 L205.1,239.8 L205.6,242.3 L206.1,240.2 L206.6,243.9 L207.1,244 L207.6,246.2 L208.1,245.5 L208.6,247.2 L209.1,251.7 L209.6,249.7 L210.1,251.3 L210.6,253.3 L211.1,254 L211.6,258 L212.1,260.2 L212.6,259.1 L213.1,259.7 L213.6,264.7 L214.1,266.5 L214.6,268.1 L215.1,270.4 L215.6,270.1 L216.1,272.8 L216.6,273.4 L217.1,275.2 L217.6,279.6 L218.1,279.5 L218.6,284.5 L219.1,283.7 L219.6,284.5 L220.1,287.7 L220.6,290.4 L221.1,290.4 L221.6,289.9 L222.1,293 L222.6,295.4 L223.1,294.6 L223.6,295.5 L224.1,298.7 L224.6,298.9 L225.1,298.7 L225.6,300.7 L226.1,301.6 L226.6,304 L227.1,305.1 L227.6,307.6 L228.1,308.4 L228.6,307.2 L229.1,310.5 L229.6,312.2 L230.1,312.7 L230.6,314.3 L231.1,313.4 L231.6,313.9 L232.1,316.7 L232.6,315.3 L233.1,314.9 L233.6,319.1 L234.1,317.8 L234.6,318.9 L235.1,318.3 L235.6,318.9 L236.1,319.6 L236.6,320.9 L237.1,322.2 L237.6,319.9 L238.1,323.8 L238.6,322.3 L239.1,323.2 L239.6,326 L240.1,326.1 L240.6,325.5 L241.1,330.2 L241.6,328.2 L242.1,330.4 L242.6,331.2 L243.1,333.2 L243.6,331.9 L244.1,334.2 L244.6,333 L245.1,334.9 L245.6,334.8 L246.1,335.6 L246.6,337.1 L247.1,337 L247.6,337.5 L248.1,338.9 L248.6,338.7 L249.1,338.8 L249.6,339.9 L250.1,339.6 L250.6,341 L251.1,341.5 L251.6,341.2 L252.1,341.6 L252.6,342.4 L253.1,342.7 L253.6,342.7 L254.1,343.7 L254.6,343.1 L255.1,344.1 L255.6,344.5 L256.1,344.9 L256.6,345.5 L257.1,345.2 L257.6,346.3 L258.1,346.4 L258.6,346.6 L259.1,346.7 L259.6,347.1 L260.1,348.1 L260.6,347.9 L261.1,348.7 L261.6,349.4 L262.1,349.7 L262.6,350.2 L263.1,349.8 L263.6,349.8 L264.1,350.9 L264.6,350.9 L265.1,351.4 L265.6,351.2 L266.1,351.8 L266.6,351.9 L267.1,352 L267.6,352.1 L268.1,352.2 L268.6,352.3 L269.1,352.5 L269.6,352.9 L270.1,352.5 L270.6,353.5 L271.1,352.9 L271.6,353.5 L272.1,353.2 L272.6,353.3 L273.1,354.3 L273.6,353.5 L274.1,353.2 L274.6,353.5 L275.1,353.8 L275.6,354.9 L276.1,354.2 L276.6,354.6 L277.1,353.9 L277.6,354.5 L278.1,354.8 L278.6,355.3 L279.1,354.4 L279.6,355 L280.1,355 L280.6,354.5 L281.1,355 L281.6,355 L282.1,354.3 L282.6,355.5 L283.1,355.6 L283.6,355.3 L284.1,355 L284.6,356.1 L285.1,355.7 L285.6,356.1 L286.1,356.3 L286.6,355.6 L287.1,356.2 L287.6,355.9 L288.1,356 L288.6,356 L289.1,356.1 L289.6,356.6 L290.1,356.3 L290.6,356.2 L291.1,356.2 L291.6,356.5 L292.1,356 L292.6,356.2 L293,356.4" stroke="#9412D2" stroke-width="3.35"/>
</g>
<line x1="182" y1="94.5" x2="182" y2="264" stroke="#1A22FF" stroke-width="2.4" stroke-linecap="round" stroke-dasharray="0.01 3.33"/>
<line x1="209" y1="94" x2="209" y2="319.5" stroke="#1A22FF" stroke-width="2.4" stroke-linecap="round" stroke-dasharray="0.01 3.33"/>
<rect x="30.5" y="70.5" width="264" height="287.5" fill="none" stroke="#111" stroke-width="2"/>
<path d="M30.5,358.5v5.5 M52.5,358.5v3.2 M74.5,358.5v5.5 M96.5,358.5v3.2 M118.5,358.5v5.5 M140.5,358.5v3.2 M162.5,358.5v5.5 M184.5,358.5v3.2 M206.5,358.5v5.5 M228.5,358.5v3.2 M250.5,358.5v5.5 M272.5,358.5v3.2 M294.5,358.5v5.5" stroke="#111" stroke-width="1.8" fill="none"/>
<text x="30.5" y="382.3" text-anchor="middle" style="font-family:'Liberation Sans',Arial,sans-serif;font-size:18.9px" fill="#111" stroke="#111" stroke-width="0.35">1.80</text>
<text x="74.5" y="382.3" text-anchor="middle" style="font-family:'Liberation Sans',Arial,sans-serif;font-size:18.9px" fill="#111" stroke="#111" stroke-width="0.35">1.85</text>
<text x="118.5" y="382.3" text-anchor="middle" style="font-family:'Liberation Sans',Arial,sans-serif;font-size:18.9px" fill="#111" stroke="#111" stroke-width="0.35">1.90</text>
<text x="162.5" y="382.3" text-anchor="middle" style="font-family:'Liberation Sans',Arial,sans-serif;font-size:18.9px" fill="#111" stroke="#111" stroke-width="0.35">1.95</text>
<text x="206.5" y="382.3" text-anchor="middle" style="font-family:'Liberation Sans',Arial,sans-serif;font-size:18.9px" fill="#111" stroke="#111" stroke-width="0.35">2.00</text>
<text x="250.5" y="382.3" text-anchor="middle" style="font-family:'Liberation Sans',Arial,sans-serif;font-size:18.9px" fill="#111" stroke="#111" stroke-width="0.35">2.05</text>
<text x="294.5" y="382.3" text-anchor="middle" style="font-family:'Liberation Sans',Arial,sans-serif;font-size:18.9px" fill="#111" stroke="#111" stroke-width="0.35">2.10</text>
<text x="162.1" y="412.5" text-anchor="middle" style="font-family:'Liberation Sans',Arial,sans-serif;font-size:19.2px" fill="#111" stroke="#111" stroke-width="0.35">Energy (eV)</text>
<text transform="translate(16.8,214) rotate(-90)" text-anchor="middle" style="font-family:'Liberation Sans',Arial,sans-serif;font-size:19px" fill="#111" stroke="#111" stroke-width="0.35">Normalized Intensity (a. u.)</text>
<line x1="35" y1="82.9" x2="70.3" y2="82.9" stroke="#EC2286" stroke-width="1.9"/>
<text x="74.2" y="88.2" style="font-family:'Liberation Sans',Arial,sans-serif;font-size:15px" fill="#111" stroke="#111" stroke-width="0.5">1-Layer</text>
<line x1="35" y1="101.4" x2="70.3" y2="101.4" stroke="#E8A83A" stroke-width="1.9"/>
<text x="74.2" y="106.7" style="font-family:'Liberation Sans',Arial,sans-serif;font-size:15px" fill="#111" stroke="#111" stroke-width="0.5">2-Layer</text>
<line x1="35" y1="119.6" x2="70.3" y2="119.6" stroke="#33CC33" stroke-width="1.9"/>
<text x="74.2" y="124.9" style="font-family:'Liberation Sans',Arial,sans-serif;font-size:15px" fill="#111" stroke="#111" stroke-width="0.5">3-Layer</text>
<line x1="35" y1="138" x2="70.3" y2="138" stroke="#3399FF" stroke-width="1.9"/>
<text x="74.2" y="143.3" style="font-family:'Liberation Sans',Arial,sans-serif;font-size:15px" fill="#111" stroke="#111" stroke-width="0.5">4-Layer</text>
<line x1="35" y1="156.1" x2="70.3" y2="156.1" stroke="#9922CC" stroke-width="1.9"/>
<text x="74.2" y="161.4" style="font-family:'Liberation Sans',Arial,sans-serif;font-size:15px" fill="#111" stroke="#111" stroke-width="0.5">5-Layer</text>
<text x="176.2" y="92.1" style="font-family:'Liberation Sans',Arial,sans-serif;font-size:18.5px" fill="#111" stroke="#111" stroke-width="0.4">X</text>
<line x1="189.3" y1="80.8" x2="195.9" y2="80.8" stroke="#666" stroke-width="1.1"/>
<text x="211.2" y="92.1" style="font-family:'Liberation Sans',Arial,sans-serif;font-size:18.5px" fill="#111" stroke="#111" stroke-width="0.4">X</text>
<rect x="387.65" y="308.95" width="1.9" height="47.35" fill="#F3B6D3"/>
<rect x="393.65" y="308.95" width="1.9" height="47.35" fill="#B3E8EA"/>
<rect x="398.31" y="332.62" width="1.9" height="23.68" fill="#F3B6D3"/>
<rect x="402.26" y="332.62" width="1.9" height="23.68" fill="#BDE8B9"/>
<rect x="408.97" y="166.9" width="1.9" height="189.4" fill="#F3B6D3"/>
<rect x="412.92" y="308.95" width="1.9" height="47.35" fill="#BDE8B9"/>
<rect x="414.97" y="332.62" width="1.9" height="23.68" fill="#B3E8EA"/>
<rect x="419.63" y="119.55" width="1.9" height="236.75" fill="#F3B6D3"/>
<rect x="423.58" y="308.95" width="1.9" height="47.35" fill="#BDE8B9"/>
<rect x="425.63" y="308.95" width="1.9" height="47.35" fill="#B3E8EA"/>
<rect x="427.98" y="285.27" width="1.9" height="71.03" fill="#D4BDF1"/>
<rect x="432.19" y="332.62" width="1.9" height="23.68" fill="#EDCAAA"/>
<rect x="434.24" y="332.62" width="1.9" height="23.68" fill="#BDE8B9"/>
<rect x="436.29" y="332.62" width="1.9" height="23.68" fill="#B3E8EA"/>
<rect x="438.64" y="308.95" width="1.9" height="47.35" fill="#D4BDF1"/>
<rect x="442.85" y="261.6" width="1.9" height="94.7" fill="#EDCAAA"/>
<rect x="444.9" y="332.62" width="1.9" height="23.68" fill="#BDE8B9"/>
<rect x="446.95" y="190.58" width="1.9" height="165.72" fill="#B3E8EA"/>
<rect x="449.3" y="157.43" width="1.9" height="198.87" fill="#D4BDF1"/>
<rect x="453.51" y="237.93" width="1.9" height="118.38" fill="#EDCAAA"/>
<rect x="455.56" y="332.62" width="1.9" height="23.68" fill="#BDE8B9"/>
<rect x="457.61" y="237.93" width="1.9" height="118.38" fill="#B3E8EA"/>
<rect x="459.96" y="237.93" width="1.9" height="118.38" fill="#D4BDF1"/>
<rect x="464.17" y="237.93" width="1.9" height="118.38" fill="#EDCAAA"/>
<rect x="466.22" y="332.62" width="1.9" height="23.68" fill="#BDE8B9"/>
<rect x="468.27" y="237.93" width="1.9" height="118.38" fill="#B3E8EA"/>
<rect x="470.62" y="190.58" width="1.9" height="165.72" fill="#D4BDF1"/>
<rect x="474.83" y="237.93" width="1.9" height="118.38" fill="#EDCAAA"/>
<rect x="476.88" y="285.27" width="1.9" height="71.03" fill="#BDE8B9"/>
<rect x="478.93" y="308.95" width="1.9" height="47.35" fill="#B3E8EA"/>
<rect x="481.28" y="332.62" width="1.9" height="23.68" fill="#D4BDF1"/>
<rect x="485.49" y="308.95" width="1.9" height="47.35" fill="#EDCAAA"/>
<rect x="487.54" y="332.62" width="1.9" height="23.68" fill="#BDE8B9"/>
<rect x="489.59" y="332.62" width="1.9" height="23.68" fill="#B3E8EA"/>
<rect x="496.15" y="285.27" width="1.9" height="71.03" fill="#EDCAAA"/>
<rect x="500.25" y="332.62" width="1.9" height="23.68" fill="#B3E8EA"/>
<rect x="506.81" y="332.62" width="1.9" height="23.68" fill="#EDCAAA"/>
<rect x="508.86" y="261.6" width="1.9" height="94.7" fill="#BDE8B9"/>
<rect x="510.91" y="332.62" width="1.9" height="23.68" fill="#B3E8EA"/>
<rect x="519.52" y="308.95" width="1.9" height="47.35" fill="#BDE8B9"/>
<rect x="521.57" y="308.95" width="1.9" height="47.35" fill="#B3E8EA"/>
<rect x="528.13" y="332.62" width="1.9" height="23.68" fill="#EDCAAA"/>
<rect x="530.18" y="308.95" width="1.9" height="47.35" fill="#BDE8B9"/>
<rect x="538.79" y="332.62" width="1.9" height="23.68" fill="#EDCAAA"/>
<rect x="572.82" y="285.27" width="1.9" height="71.03" fill="#BDE8B9"/>
<rect x="636.78" y="332.62" width="1.9" height="23.68" fill="#BDE8B9"/>
<rect x="668.76" y="308.95" width="1.9" height="47.35" fill="#BDE8B9"/>
<g fill="none" stroke-width="2.8" stroke-linejoin="round">
<path d="M378.17,354.60 L378.34,354.60 L378.51,354.60 L378.69,354.60 L378.86,354.60 L379.03,354.60 L379.21,354.60 L379.38,354.60 L379.55,354.60 L379.73,354.60 L379.90,354.60 L380.07,354.60 L380.25,354.60 L380.42,354.60 L380.60,354.60 L380.77,354.60 L380.94,354.60 L381.12,354.60 L381.29,354.59 L381.46,354.51 L381.64,354.44 L381.81,354.36 L381.98,354.28 L382.16,354.19 L382.33,354.10 L382.50,354.01 L382.68,353.91 L382.85,353.82 L383.03,353.71 L383.20,353.61 L383.37,353.50 L383.55,353.38 L383.72,353.26 L383.89,353.14 L384.07,353.01 L384.24,352.88 L384.41,352.75 L384.59,352.61 L384.76,352.46 L384.93,352.31 L385.11,352.15 L385.28,351.99 L385.46,351.83 L385.63,351.65 L385.80,351.48 L385.98,351.29 L386.15,351.10 L386.32,350.91 L386.50,350.71 L386.67,350.50 L386.84,350.28 L387.02,350.06 L387.19,349.83 L387.36,349.59 L387.54,349.35 L387.71,349.10 L387.88,348.84 L388.06,348.57 L388.23,348.29 L388.41,348.01 L388.58,347.72 L388.75,347.41 L388.93,347.10 L389.10,346.79 L389.27,346.46 L389.45,346.12 L389.62,345.77 L389.79,345.41 L389.97,345.05 L390.14,344.67 L390.31,344.28 L390.49,343.88 L390.66,343.47 L390.84,343.05 L391.01,342.61 L391.18,342.17 L391.36,341.71 L391.53,341.24 L391.70,340.76 L391.88,340.27 L392.05,339.76 L392.22,339.24 L392.40,338.71 L392.57,338.17 L392.74,337.61 L392.92,337.04 L393.09,336.45 L393.27,335.85 L393.44,335.23 L393.61,334.60 L393.79,333.96 L393.96,333.30 L394.13,332.63 L394.31,331.94 L394.48,331.23 L394.65,330.51 L394.83,329.77 L395.00,329.02 L395.17,328.25 L395.35,327.46 L395.52,326.66 L395.70,325.84 L395.87,325.00 L396.04,324.15 L396.22,323.28 L396.39,322.39 L396.56,321.48 L396.74,320.56 L396.91,319.61 L397.08,318.65 L397.26,317.68 L397.43,316.68 L397.60,315.66 L397.78,314.63 L397.95,313.58 L398.12,312.51 L398.30,311.42 L398.47,310.31 L398.65,309.18 L398.82,308.03 L398.99,306.87 L399.17,305.68 L399.34,304.48 L399.51,303.26 L399.69,302.02 L399.86,300.76 L400.03,299.48 L400.21,298.18 L400.38,296.86 L400.55,295.52 L400.73,294.17 L400.90,292.79 L401.08,291.40 L401.25,289.99 L401.42,288.56 L401.60,287.11 L401.77,285.64 L401.94,284.16 L402.12,282.66 L402.29,281.14 L402.46,279.60 L402.64,278.04 L402.81,276.47 L402.98,274.88 L403.16,273.28 L403.33,271.65 L403.51,270.02 L403.68,268.36 L403.85,266.69 L404.03,265.01 L404.20,263.31 L404.37,261.59 L404.55,259.86 L404.72,258.12 L404.89,256.37 L405.07,254.60 L405.24,252.82 L405.41,251.02 L405.59,249.22 L405.76,247.40 L405.94,245.57 L406.11,243.73 L406.28,241.88 L406.46,240.03 L406.63,238.16 L406.80,236.29 L406.98,234.40 L407.15,232.51 L407.32,230.62 L407.50,228.72 L407.67,226.81 L407.84,224.89 L408.02,222.98 L408.19,221.06 L408.36,219.13 L408.54,217.21 L408.71,215.28 L408.89,213.35 L409.06,211.43 L409.23,209.50 L409.41,207.57 L409.58,205.65 L409.75,203.72 L409.93,201.80 L410.10,199.89 L410.27,197.98 L410.45,196.08 L410.62,194.18 L410.79,192.29 L410.97,190.40 L411.14,188.53 L411.32,186.66 L411.49,184.81 L411.66,182.97 L411.84,181.13 L412.01,179.31 L412.18,177.51 L412.36,175.72 L412.53,173.94 L412.70,172.18 L412.88,170.43 L413.05,168.70 L413.22,167.00 L413.40,165.30 L413.57,163.63 L413.75,161.98 L413.92,160.35 L414.09,158.75 L414.27,157.16 L414.44,155.60 L414.61,154.06 L414.79,152.55 L414.96,151.07 L415.13,149.61 L415.31,148.17 L415.48,146.77 L415.65,145.39 L415.83,144.04 L416.00,142.73 L416.18,141.44 L416.35,140.19 L416.52,138.96 L416.70,137.77 L416.87,136.61 L417.04,135.49 L417.22,134.40 L417.39,133.34 L417.56,132.33 L417.74,131.34 L417.91,130.39 L418.08,129.48 L418.26,128.61 L418.43,127.78 L418.60,126.98 L418.78,126.22 L418.95,125.50 L419.13,124.82 L419.30,124.18 L419.47,123.58 L419.65,123.02 L419.82,122.51 L419.99,122.03 L420.17,121.59 L420.34,121.20 L420.51,120.85 L420.69,120.54 L420.86,120.27 L421.03,120.04 L421.21,119.86 L421.38,119.72 L421.56,119.62 L421.73,119.56 L421.90,119.55 L422.08,119.58 L422.25,119.66 L422.42,119.78 L422.60,119.94 L422.77,120.15 L422.94,120.40 L423.12,120.70 L423.29,121.04 L423.46,121.42 L423.64,121.85 L423.81,122.32 L423.99,122.84 L424.16,123.39 L424.33,123.99 L424.51,124.63 L424.68,125.32 L424.85,126.04 L425.03,126.81 L425.20,127.61 L425.37,128.46 L425.55,129.34 L425.72,130.27 L425.89,131.23 L426.07,132.23 L426.24,133.27 L426.42,134.34 L426.59,135.45 L426.76,136.60 L426.94,137.78 L427.11,139.00 L427.28,140.25 L427.46,141.53 L427.63,142.85 L427.80,144.20 L427.98,145.58 L428.15,146.99 L428.32,148.42 L428.50,149.89 L428.67,151.39 L428.84,152.91 L429.02,154.46 L429.19,156.04 L429.37,157.64 L429.54,159.27 L429.71,160.91 L429.89,162.59 L430.06,164.28 L430.23,165.99 L430.41,167.73 L430.58,169.48 L430.75,171.25 L430.93,173.04 L431.10,174.85 L431.27,176.67 L431.45,178.51 L431.62,180.36 L431.80,182.23 L431.97,184.11 L432.14,186.00 L432.32,187.90 L432.49,189.81 L432.66,191.73 L432.84,193.66 L433.01,195.59 L433.18,197.53 L433.36,199.48 L433.53,201.44 L433.70,203.40 L433.88,205.36 L434.05,207.32 L434.23,209.29 L434.40,211.26 L434.57,213.23 L434.75,215.20 L434.92,217.16 L435.09,219.13 L435.27,221.09 L435.44,223.05 L435.61,225.01 L435.79,226.96 L435.96,228.91 L436.13,230.85 L436.31,232.79 L436.48,234.72 L436.66,236.64 L436.83,238.55 L437.00,240.45 L437.18,242.35 L437.35,244.23 L437.52,246.11 L437.70,247.97 L437.87,249.82 L438.04,251.66 L438.22,253.49 L438.39,255.30 L438.56,257.10 L438.74,258.89 L438.91,260.66 L439.08,262.42 L439.26,264.17 L439.43,265.89 L439.61,267.61 L439.78,269.30 L439.95,270.98 L440.13,272.64 L440.30,274.29 L440.47,275.92 L440.65,277.53 L440.82,279.12 L440.99,280.70 L441.17,282.26 L441.34,283.79 L441.51,285.31 L441.69,286.82 L441.86,288.30 L442.04,289.76 L442.21,291.21 L442.38,292.63 L442.56,294.04 L442.73,295.42 L442.90,296.79 L443.08,298.13 L443.25,299.46 L443.42,300.77 L443.60,302.05 L443.77,303.32 L443.94,304.57 L444.12,305.79 L444.29,307.00 L444.47,308.19 L444.64,309.36 L444.81,310.50 L444.99,311.63 L445.16,312.74 L445.33,313.83 L445.51,314.90 L445.68,315.95 L445.85,316.98 L446.03,317.99 L446.20,318.99 L446.37,319.96 L446.55,320.92 L446.72,321.85 L446.90,322.77 L447.07,323.67 L447.24,324.55 L447.42,325.42 L447.59,326.26 L447.76,327.09 L447.94,327.90 L448.11,328.69 L448.28,329.47 L448.46,330.23 L448.63,330.97 L448.80,331.70 L448.98,332.41 L449.15,333.10 L449.32,333.78 L449.50,334.44 L449.67,335.09 L449.85,335.72 L450.02,336.34 L450.19,336.94 L450.37,337.52 L450.54,338.10 L450.71,338.65 L450.89,339.20 L451.06,339.73 L451.23,340.25 L451.41,340.75 L451.58,341.24 L451.75,341.72 L451.93,342.19 L452.10,342.64 L452.28,343.08 L452.45,343.51 L452.62,343.93 L452.80,344.34 L452.97,344.73 L453.14,345.11 L453.32,345.49 L453.49,345.85 L453.66,346.20 L453.84,346.55 L454.01,346.88 L454.18,347.20 L454.36,347.52 L454.53,347.82 L454.71,348.12 L454.88,348.40 L455.05,348.68 L455.23,348.95 L455.40,349.21 L455.57,349.47 L455.75,349.71 L455.92,349.95 L456.09,350.18 L456.27,350.40 L456.44,350.62 L456.61,350.83 L456.79,351.03 L456.96,351.23 L457.14,351.42 L457.31,351.60 L457.48,351.78 L457.66,351.95 L457.83,352.12 L458.00,352.28 L458.18,352.43 L458.35,352.58 L458.52,352.72 L458.70,352.86 L458.87,353.00 L459.04,353.13 L459.22,353.25 L459.39,353.38 L459.56,353.49 L459.74,353.60 L459.91,353.71 L460.09,353.82 L460.26,353.92 L460.43,354.02 L460.61,354.11 L460.78,354.20 L460.95,354.29 L461.13,354.37 L461.30,354.45 L461.47,354.53 L461.65,354.60 L461.82,354.60 L461.99,354.60 L462.17,354.60 L462.34,354.60 L462.52,354.60 L462.69,354.60 L462.86,354.60 L463.04,354.60 L463.21,354.60 L463.38,354.60 L463.56,354.60 L463.73,354.60 L463.90,354.60 L464.08,354.60 L464.25,354.60 L464.42,354.60 L464.60,354.60 L464.77,354.60" stroke="#F80A76"/>
<path d="M386.96,354.60 L387.29,354.60 L387.62,354.60 L387.95,354.60 L388.28,354.60 L388.62,354.60 L388.95,354.60 L389.28,354.60 L389.61,354.60 L389.94,354.60 L390.27,354.60 L390.60,354.60 L390.94,354.60 L391.27,354.60 L391.60,354.60 L391.93,354.60 L392.26,354.60 L392.59,354.60 L392.92,354.60 L393.26,354.60 L393.59,354.60 L393.92,354.60 L394.25,354.60 L394.58,354.60 L394.91,354.60 L395.24,354.60 L395.57,354.60 L395.91,354.60 L396.24,354.60 L396.57,354.60 L396.90,354.60 L397.23,354.60 L397.56,354.60 L397.89,354.57 L398.23,354.51 L398.56,354.44 L398.89,354.37 L399.22,354.30 L399.55,354.22 L399.88,354.15 L400.21,354.07 L400.55,353.99 L400.88,353.90 L401.21,353.82 L401.54,353.73 L401.87,353.63 L402.20,353.54 L402.53,353.44 L402.87,353.34 L403.20,353.24 L403.53,353.13 L403.86,353.02 L404.19,352.90 L404.52,352.79 L404.85,352.67 L405.18,352.54 L405.52,352.41 L405.85,352.28 L406.18,352.15 L406.51,352.01 L406.84,351.87 L407.17,351.72 L407.50,351.57 L407.84,351.41 L408.17,351.25 L408.50,351.09 L408.83,350.92 L409.16,350.75 L409.49,350.57 L409.82,350.39 L410.16,350.20 L410.49,350.01 L410.82,349.81 L411.15,349.61 L411.48,349.40 L411.81,349.19 L412.14,348.97 L412.47,348.75 L412.81,348.52 L413.14,348.29 L413.47,348.05 L413.80,347.80 L414.13,347.55 L414.46,347.29 L414.79,347.03 L415.13,346.76 L415.46,346.48 L415.79,346.20 L416.12,345.91 L416.45,345.61 L416.78,345.31 L417.11,345.00 L417.45,344.69 L417.78,344.36 L418.11,344.03 L418.44,343.70 L418.77,343.35 L419.10,343.00 L419.43,342.64 L419.76,342.28 L420.10,341.91 L420.43,341.53 L420.76,341.14 L421.09,340.74 L421.42,340.34 L421.75,339.93 L422.08,339.51 L422.42,339.08 L422.75,338.64 L423.08,338.20 L423.41,337.75 L423.74,337.29 L424.07,336.82 L424.40,336.35 L424.74,335.86 L425.07,335.37 L425.40,334.87 L425.73,334.36 L426.06,333.84 L426.39,333.31 L426.72,332.78 L427.05,332.24 L427.39,331.68 L427.72,331.12 L428.05,330.55 L428.38,329.98 L428.71,329.39 L429.04,328.79 L429.37,328.19 L429.71,327.58 L430.04,326.96 L430.37,326.33 L430.70,325.69 L431.03,325.04 L431.36,324.39 L431.69,323.73 L432.03,323.05 L432.36,322.37 L432.69,321.69 L433.02,320.99 L433.35,320.29 L433.68,319.57 L434.01,318.85 L434.34,318.12 L434.68,317.39 L435.01,316.64 L435.34,315.89 L435.67,315.13 L436.00,314.37 L436.33,313.59 L436.66,312.81 L437.00,312.02 L437.33,311.23 L437.66,310.42 L437.99,309.61 L438.32,308.80 L438.65,307.98 L438.98,307.15 L439.32,306.32 L439.65,305.48 L439.98,304.63 L440.31,303.78 L440.64,302.92 L440.97,302.06 L441.30,301.19 L441.63,300.32 L441.97,299.45 L442.30,298.57 L442.63,297.68 L442.96,296.79 L443.29,295.90 L443.62,295.01 L443.95,294.11 L444.29,293.21 L444.62,292.30 L444.95,291.40 L445.28,290.49 L445.61,289.58 L445.94,288.66 L446.27,287.75 L446.61,286.84 L446.94,285.92 L447.27,285.01 L447.60,284.09 L447.93,283.18 L448.26,282.26 L448.59,281.35 L448.92,280.43 L449.26,279.52 L449.59,278.61 L449.92,277.70 L450.25,276.80 L450.58,275.89 L450.91,274.99 L451.24,274.10 L451.58,273.20 L451.91,272.31 L452.24,271.43 L452.57,270.55 L452.90,269.67 L453.23,268.80 L453.56,267.94 L453.90,267.08 L454.23,266.22 L454.56,265.38 L454.89,264.54 L455.22,263.71 L455.55,262.88 L455.88,262.07 L456.21,261.26 L456.55,260.46 L456.88,259.67 L457.21,258.89 L457.54,258.12 L457.87,257.36 L458.20,256.61 L458.53,255.87 L458.87,255.14 L459.20,254.42 L459.53,253.72 L459.86,253.02 L460.19,252.34 L460.52,251.67 L460.85,251.02 L461.19,250.37 L461.52,249.74 L461.85,249.13 L462.18,248.52 L462.51,247.93 L462.84,247.36 L463.17,246.80 L463.50,246.26 L463.84,245.73 L464.17,245.22 L464.50,244.72 L464.83,244.24 L465.16,243.77 L465.49,243.32 L465.82,242.89 L466.16,242.48 L466.49,242.08 L466.82,241.70 L467.15,241.34 L467.48,240.99 L467.81,240.66 L468.14,240.35 L468.48,240.06 L468.81,239.79 L469.14,239.53 L469.47,239.29 L469.80,239.08 L470.13,238.88 L470.46,238.70 L470.79,238.53 L471.13,238.39 L471.46,238.27 L471.79,238.16 L472.12,238.08 L472.45,238.01 L472.78,237.96 L473.11,237.93 L473.45,237.93 L473.78,237.94 L474.11,237.97 L474.44,238.02 L474.77,238.10 L475.10,238.19 L475.43,238.31 L475.77,238.45 L476.10,238.61 L476.43,238.79 L476.76,238.99 L477.09,239.21 L477.42,239.45 L477.75,239.71 L478.08,239.99 L478.42,240.29 L478.75,240.62 L479.08,240.96 L479.41,241.32 L479.74,241.70 L480.07,242.10 L480.40,242.52 L480.74,242.96 L481.07,243.41 L481.40,243.89 L481.73,244.38 L482.06,244.89 L482.39,245.41 L482.72,245.96 L483.06,246.52 L483.39,247.10 L483.72,247.69 L484.05,248.30 L484.38,248.93 L484.71,249.57 L485.04,250.23 L485.37,250.90 L485.71,251.59 L486.04,252.29 L486.37,253.00 L486.70,253.73 L487.03,254.47 L487.36,255.22 L487.69,255.99 L488.03,256.77 L488.36,257.56 L488.69,258.36 L489.02,259.17 L489.35,259.99 L489.68,260.82 L490.01,261.67 L490.35,262.52 L490.68,263.38 L491.01,264.25 L491.34,265.12 L491.67,266.01 L492.00,266.90 L492.33,267.80 L492.66,268.70 L493.00,269.62 L493.33,270.53 L493.66,271.46 L493.99,272.39 L494.32,273.32 L494.65,274.26 L494.98,275.20 L495.32,276.14 L495.65,277.09 L495.98,278.04 L496.31,278.99 L496.64,279.95 L496.97,280.91 L497.30,281.86 L497.64,282.82 L497.97,283.78 L498.30,284.74 L498.63,285.70 L498.96,286.66 L499.29,287.62 L499.62,288.58 L499.95,289.53 L500.29,290.49 L500.62,291.44 L500.95,292.39 L501.28,293.34 L501.61,294.28 L501.94,295.22 L502.27,296.16 L502.61,297.10 L502.94,298.03 L503.27,298.95 L503.60,299.87 L503.93,300.79 L504.26,301.70 L504.59,302.60 L504.93,303.50 L505.26,304.40 L505.59,305.29 L505.92,306.17 L506.25,307.04 L506.58,307.91 L506.91,308.77 L507.24,309.63 L507.58,310.48 L507.91,311.32 L508.24,312.15 L508.57,312.98 L508.90,313.79 L509.23,314.60 L509.56,315.40 L509.90,316.20 L510.23,316.98 L510.56,317.76 L510.89,318.53 L511.22,319.28 L511.55,320.04 L511.88,320.78 L512.22,321.51 L512.55,322.23 L512.88,322.95 L513.21,323.65 L513.54,324.35 L513.87,325.03 L514.20,325.71 L514.53,326.38 L514.87,327.04 L515.20,327.69 L515.53,328.33 L515.86,328.96 L516.19,329.58 L516.52,330.19 L516.85,330.79 L517.19,331.39 L517.52,331.97 L517.85,332.54 L518.18,333.11 L518.51,333.66 L518.84,334.21 L519.17,334.75 L519.51,335.27 L519.84,335.79 L520.17,336.30 L520.50,336.80 L520.83,337.29 L521.16,337.77 L521.49,338.25 L521.82,338.71 L522.16,339.16 L522.49,339.61 L522.82,340.05 L523.15,340.48 L523.48,340.90 L523.81,341.31 L524.14,341.71 L524.48,342.11 L524.81,342.49 L525.14,342.87 L525.47,343.24 L525.80,343.61 L526.13,343.96 L526.46,344.31 L526.80,344.65 L527.13,344.98 L527.46,345.30 L527.79,345.62 L528.12,345.93 L528.45,346.23 L528.78,346.53 L529.11,346.81 L529.45,347.10 L529.78,347.37 L530.11,347.64 L530.44,347.90 L530.77,348.16 L531.10,348.40 L531.43,348.65 L531.77,348.88 L532.10,349.11 L532.43,349.34 L532.76,349.56 L533.09,349.77 L533.42,349.98 L533.75,350.18 L534.09,350.38 L534.42,350.57 L534.75,350.75 L535.08,350.93 L535.41,351.11 L535.74,351.28 L536.07,351.45 L536.40,351.61 L536.74,351.77 L537.07,351.92 L537.40,352.07 L537.73,352.21 L538.06,352.35 L538.39,352.49 L538.72,352.62 L539.06,352.75 L539.39,352.87 L539.72,352.99 L540.05,353.11 L540.38,353.22 L540.71,353.33 L541.04,353.44 L541.38,353.54 L541.71,353.64 L542.04,353.73 L542.37,353.83 L542.70,353.92 L543.03,354.01 L543.36,354.09 L543.69,354.17 L544.03,354.25 L544.36,354.33 L544.69,354.40 L545.02,354.47 L545.35,354.54 L545.68,354.60 L546.01,354.60 L546.35,354.60 L546.68,354.60 L547.01,354.60 L547.34,354.60 L547.67,354.60 L548.00,354.60 L548.33,354.60 L548.67,354.60 L549.00,354.60 L549.33,354.60 L549.66,354.60 L549.99,354.60 L550.32,354.60 L550.65,354.60 L550.98,354.60 L551.32,354.60 L551.65,354.60 L551.98,354.60 L552.31,354.60" stroke="#FF7E10"/>
<path d="M360.84,354.32 L361.25,354.25 L361.66,354.17 L362.07,354.08 L362.48,354.00 L362.89,353.91 L363.30,353.82 L363.71,353.73 L364.12,353.63 L364.53,353.53 L364.94,353.43 L365.35,353.33 L365.76,353.22 L366.17,353.10 L366.58,352.99 L366.99,352.87 L367.40,352.74 L367.81,352.61 L368.22,352.48 L368.63,352.35 L369.04,352.21 L369.45,352.06 L369.86,351.91 L370.27,351.76 L370.68,351.60 L371.09,351.44 L371.50,351.27 L371.91,351.10 L372.32,350.92 L372.73,350.74 L373.14,350.55 L373.55,350.36 L373.96,350.16 L374.37,349.95 L374.78,349.74 L375.19,349.53 L375.60,349.30 L376.01,349.07 L376.42,348.84 L376.83,348.60 L377.24,348.35 L377.65,348.09 L378.06,347.83 L378.47,347.56 L378.88,347.29 L379.29,347.01 L379.70,346.72 L380.11,346.42 L380.52,346.11 L380.93,345.80 L381.34,345.48 L381.75,345.15 L382.16,344.81 L382.57,344.47 L382.98,344.11 L383.39,343.75 L383.80,343.38 L384.21,343.00 L384.62,342.61 L385.03,342.21 L385.44,341.80 L385.85,341.38 L386.26,340.96 L386.67,340.52 L387.08,340.07 L387.49,339.62 L387.90,339.15 L388.31,338.67 L388.72,338.18 L389.13,337.69 L389.54,337.18 L389.95,336.66 L390.35,336.13 L390.76,335.59 L391.17,335.03 L391.58,334.47 L391.99,333.89 L392.40,333.31 L392.81,332.71 L393.22,332.10 L393.63,331.48 L394.04,330.84 L394.45,330.19 L394.86,329.54 L395.27,328.87 L395.68,328.18 L396.09,327.49 L396.50,326.78 L396.91,326.06 L397.32,325.32 L397.73,324.58 L398.14,323.82 L398.55,323.04 L398.96,322.26 L399.37,321.46 L399.78,320.65 L400.19,319.82 L400.60,318.99 L401.01,318.14 L401.42,317.27 L401.83,316.39 L402.24,315.50 L402.65,314.60 L403.06,313.68 L403.47,312.75 L403.88,311.81 L404.29,310.85 L404.70,309.88 L405.11,308.89 L405.52,307.90 L405.93,306.89 L406.34,305.86 L406.75,304.83 L407.16,303.78 L407.57,302.71 L407.98,301.64 L408.39,300.55 L408.80,299.45 L409.21,298.33 L409.62,297.21 L410.03,296.07 L410.44,294.92 L410.85,293.76 L411.26,292.58 L411.67,291.39 L412.08,290.20 L412.49,288.99 L412.90,287.76 L413.31,286.53 L413.72,285.29 L414.13,284.03 L414.54,282.77 L414.95,281.49 L415.36,280.21 L415.77,278.91 L416.18,277.61 L416.59,276.29 L417.00,274.97 L417.41,273.64 L417.82,272.30 L418.23,270.95 L418.64,269.59 L419.05,268.23 L419.46,266.86 L419.87,265.48 L420.28,264.09 L420.68,262.70 L421.09,261.30 L421.50,259.90 L421.91,258.49 L422.32,257.07 L422.73,255.65 L423.14,254.23 L423.55,252.80 L423.96,251.37 L424.37,249.94 L424.78,248.50 L425.19,247.07 L425.60,245.63 L426.01,244.19 L426.42,242.74 L426.83,241.30 L427.24,239.86 L427.65,238.42 L428.06,236.98 L428.47,235.54 L428.88,234.10 L429.29,232.66 L429.70,231.23 L430.11,229.80 L430.52,228.38 L430.93,226.96 L431.34,225.54 L431.75,224.13 L432.16,222.73 L432.57,221.33 L432.98,219.94 L433.39,218.55 L433.80,217.18 L434.21,215.81 L434.62,214.45 L435.03,213.10 L435.44,211.76 L435.85,210.43 L436.26,209.11 L436.67,207.81 L437.08,206.51 L437.49,205.23 L437.90,203.96 L438.31,202.71 L438.72,201.46 L439.13,200.24 L439.54,199.03 L439.95,197.83 L440.36,196.65 L440.77,195.49 L441.18,194.34 L441.59,193.21 L442.00,192.10 L442.41,191.01 L442.82,189.93 L443.23,188.88 L443.64,187.85 L444.05,186.83 L444.46,185.84 L444.87,184.87 L445.28,183.92 L445.69,182.99 L446.10,182.08 L446.51,181.20 L446.92,180.34 L447.33,179.51 L447.74,178.69 L448.15,177.91 L448.56,177.14 L448.97,176.41 L449.38,175.69 L449.79,175.01 L450.20,174.35 L450.61,173.71 L451.02,173.11 L451.42,172.53 L451.83,171.97 L452.24,171.45 L452.65,170.95 L453.06,170.48 L453.47,170.04 L453.88,169.63 L454.29,169.24 L454.70,168.88 L455.11,168.56 L455.52,168.26 L455.93,167.99 L456.34,167.75 L456.75,167.54 L457.16,167.36 L457.57,167.21 L457.98,167.09 L458.39,167.00 L458.80,166.94 L459.21,166.90 L459.62,166.90 L460.03,166.93 L460.44,166.99 L460.85,167.08 L461.26,167.19 L461.67,167.34 L462.08,167.52 L462.49,167.72 L462.90,167.96 L463.31,168.23 L463.72,168.52 L464.13,168.84 L464.54,169.20 L464.95,169.58 L465.36,169.99 L465.77,170.43 L466.18,170.89 L466.59,171.39 L467.00,171.91 L467.41,172.46 L467.82,173.04 L468.23,173.64 L468.64,174.27 L469.05,174.93 L469.46,175.61 L469.87,176.32 L470.28,177.05 L470.69,177.81 L471.10,178.60 L471.51,179.41 L471.92,180.24 L472.33,181.10 L472.74,181.98 L473.15,182.88 L473.56,183.80 L473.97,184.75 L474.38,185.72 L474.79,186.71 L475.20,187.72 L475.61,188.75 L476.02,189.81 L476.43,190.88 L476.84,191.97 L477.25,193.08 L477.66,194.20 L478.07,195.35 L478.48,196.51 L478.89,197.69 L479.30,198.88 L479.71,200.09 L480.12,201.32 L480.53,202.56 L480.94,203.81 L481.35,205.08 L481.76,206.36 L482.16,207.65 L482.57,208.96 L482.98,210.27 L483.39,211.60 L483.80,212.94 L484.21,214.29 L484.62,215.64 L485.03,217.01 L485.44,218.39 L485.85,219.77 L486.26,221.16 L486.67,222.56 L487.08,223.96 L487.49,225.37 L487.90,226.79 L488.31,228.21 L488.72,229.63 L489.13,231.06 L489.54,232.49 L489.95,233.93 L490.36,235.36 L490.77,236.80 L491.18,238.24 L491.59,239.68 L492.00,241.13 L492.41,242.57 L492.82,244.01 L493.23,245.45 L493.64,246.89 L494.05,248.33 L494.46,249.77 L494.87,251.20 L495.28,252.63 L495.69,254.06 L496.10,255.48 L496.51,256.90 L496.92,258.32 L497.33,259.73 L497.74,261.13 L498.15,262.53 L498.56,263.92 L498.97,265.31 L499.38,266.69 L499.79,268.06 L500.20,269.43 L500.61,270.79 L501.02,272.14 L501.43,273.48 L501.84,274.81 L502.25,276.14 L502.66,277.45 L503.07,278.76 L503.48,280.05 L503.89,281.34 L504.30,282.62 L504.71,283.88 L505.12,285.14 L505.53,286.38 L505.94,287.62 L506.35,288.84 L506.76,290.05 L507.17,291.25 L507.58,292.44 L507.99,293.61 L508.40,294.78 L508.81,295.93 L509.22,297.07 L509.63,298.20 L510.04,299.31 L510.45,300.42 L510.86,301.51 L511.27,302.58 L511.68,303.65 L512.09,304.70 L512.50,305.74 L512.90,306.76 L513.31,307.77 L513.72,308.77 L514.13,309.76 L514.54,310.73 L514.95,311.69 L515.36,312.64 L515.77,313.57 L516.18,314.49 L516.59,315.39 L517.00,316.29 L517.41,317.17 L517.82,318.03 L518.23,318.88 L518.64,319.72 L519.05,320.55 L519.46,321.36 L519.87,322.16 L520.28,322.95 L520.69,323.72 L521.10,324.49 L521.51,325.23 L521.92,325.97 L522.33,326.69 L522.74,327.40 L523.15,328.10 L523.56,328.78 L523.97,329.46 L524.38,330.12 L524.79,330.76 L525.20,331.40 L525.61,332.02 L526.02,332.64 L526.43,333.24 L526.84,333.82 L527.25,334.40 L527.66,334.97 L528.07,335.52 L528.48,336.06 L528.89,336.60 L529.30,337.12 L529.71,337.63 L530.12,338.13 L530.53,338.61 L530.94,339.09 L531.35,339.56 L531.76,340.02 L532.17,340.47 L532.58,340.90 L532.99,341.33 L533.40,341.75 L533.81,342.16 L534.22,342.56 L534.63,342.95 L535.04,343.33 L535.45,343.70 L535.86,344.07 L536.27,344.42 L536.68,344.77 L537.09,345.11 L537.50,345.44 L537.91,345.76 L538.32,346.08 L538.73,346.38 L539.14,346.68 L539.55,346.97 L539.96,347.26 L540.37,347.53 L540.78,347.80 L541.19,348.06 L541.60,348.32 L542.01,348.57 L542.42,348.81 L542.83,349.05 L543.24,349.28 L543.64,349.50 L544.05,349.72 L544.46,349.93 L544.87,350.13 L545.28,350.33 L545.69,350.53 L546.10,350.72 L546.51,350.90 L546.92,351.08 L547.33,351.25 L547.74,351.42 L548.15,351.58 L548.56,351.74 L548.97,351.89 L549.38,352.04 L549.79,352.19 L550.20,352.33 L550.61,352.47 L551.02,352.60 L551.43,352.73 L551.84,352.85 L552.25,352.97 L552.66,353.09 L553.07,353.20 L553.48,353.31 L553.89,353.42 L554.30,353.52 L554.71,353.62 L555.12,353.72 L555.53,353.81 L555.94,353.90 L556.35,353.99 L556.76,354.07 L557.17,354.16 L557.58,354.24 L557.99,354.31 L558.40,354.39 L558.81,354.46 L559.22,354.53 L559.63,354.59 L560.04,354.60 L560.45,354.60 L560.86,354.60 L561.27,354.60 L561.68,354.60 L562.09,354.60 L562.50,354.60 L562.91,354.60 L563.32,354.60 L563.73,354.60 L564.14,354.60 L564.55,354.60 L564.96,354.60 L565.37,354.60" stroke="#12F0F0"/>
<path d="M360.84,342.44 L361.48,342.20 L362.12,341.96 L362.76,341.72 L363.40,341.47 L364.04,341.22 L364.68,340.97 L365.32,340.72 L365.96,340.46 L366.60,340.20 L367.24,339.94 L367.88,339.67 L368.52,339.40 L369.16,339.13 L369.80,338.85 L370.44,338.57 L371.08,338.29 L371.72,338.00 L372.36,337.71 L373.00,337.42 L373.64,337.13 L374.28,336.83 L374.92,336.53 L375.56,336.22 L376.20,335.92 L376.84,335.61 L377.48,335.29 L378.12,334.98 L378.76,334.66 L379.40,334.33 L380.04,334.01 L380.68,333.68 L381.32,333.34 L381.96,333.01 L382.60,332.67 L383.24,332.33 L383.88,331.98 L384.52,331.63 L385.16,331.28 L385.80,330.93 L386.44,330.57 L387.07,330.21 L387.71,329.84 L388.35,329.48 L388.99,329.11 L389.63,328.73 L390.27,328.36 L390.91,327.98 L391.55,327.60 L392.19,327.21 L392.83,326.82 L393.47,326.43 L394.11,326.04 L394.75,325.64 L395.39,325.24 L396.03,324.84 L396.67,324.43 L397.31,324.02 L397.95,323.61 L398.59,323.20 L399.23,322.78 L399.87,322.36 L400.51,321.94 L401.15,321.52 L401.79,321.09 L402.43,320.66 L403.07,320.23 L403.71,319.79 L404.35,319.35 L404.99,318.91 L405.63,318.47 L406.27,318.03 L406.91,317.58 L407.55,317.13 L408.19,316.68 L408.83,316.23 L409.47,315.77 L410.11,315.31 L410.75,314.85 L411.39,314.39 L412.03,313.93 L412.67,313.46 L413.31,312.99 L413.95,312.52 L414.58,312.05 L415.22,311.58 L415.86,311.10 L416.50,310.63 L417.14,310.15 L417.78,309.67 L418.42,309.19 L419.06,308.71 L419.70,308.22 L420.34,307.74 L420.98,307.25 L421.62,306.77 L422.26,306.28 L422.90,305.79 L423.54,305.30 L424.18,304.81 L424.82,304.31 L425.46,303.82 L426.10,303.33 L426.74,302.83 L427.38,302.34 L428.02,301.84 L428.66,301.35 L429.30,300.85 L429.94,300.35 L430.58,299.86 L431.22,299.36 L431.86,298.86 L432.50,298.37 L433.14,297.87 L433.78,297.37 L434.42,296.88 L435.06,296.38 L435.70,295.88 L436.34,295.39 L436.98,294.89 L437.62,294.40 L438.26,293.91 L438.90,293.41 L439.54,292.92 L440.18,292.43 L440.82,291.94 L441.45,291.45 L442.09,290.97 L442.73,290.48 L443.37,289.99 L444.01,289.51 L444.65,289.03 L445.29,288.55 L445.93,288.07 L446.57,287.59 L447.21,287.12 L447.85,286.64 L448.49,286.17 L449.13,285.70 L449.77,285.24 L450.41,284.77 L451.05,284.31 L451.69,283.85 L452.33,283.39 L452.97,282.94 L453.61,282.48 L454.25,282.03 L454.89,281.59 L455.53,281.14 L456.17,280.70 L456.81,280.27 L457.45,279.83 L458.09,279.40 L458.73,278.97 L459.37,278.55 L460.01,278.13 L460.65,277.71 L461.29,277.30 L461.93,276.89 L462.57,276.48 L463.21,276.08 L463.85,275.68 L464.49,275.29 L465.13,274.90 L465.77,274.51 L466.41,274.13 L467.05,273.76 L467.69,273.38 L468.33,273.02 L468.96,272.65 L469.60,272.30 L470.24,271.94 L470.88,271.59 L471.52,271.25 L472.16,270.91 L472.80,270.58 L473.44,270.25 L474.08,269.93 L474.72,269.61 L475.36,269.30 L476.00,268.99 L476.64,268.69 L477.28,268.39 L477.92,268.10 L478.56,267.82 L479.20,267.54 L479.84,267.26 L480.48,267.00 L481.12,266.73 L481.76,266.48 L482.40,266.23 L483.04,265.98 L483.68,265.75 L484.32,265.52 L484.96,265.29 L485.60,265.07 L486.24,264.86 L486.88,264.65 L487.52,264.45 L488.16,264.26 L488.80,264.07 L489.44,263.89 L490.08,263.72 L490.72,263.55 L491.36,263.39 L492.00,263.24 L492.64,263.09 L493.28,262.95 L493.92,262.82 L494.56,262.69 L495.20,262.57 L495.84,262.46 L496.47,262.35 L497.11,262.25 L497.75,262.16 L498.39,262.07 L499.03,262.00 L499.67,261.93 L500.31,261.86 L500.95,261.80 L501.59,261.75 L502.23,261.71 L502.87,261.67 L503.51,261.65 L504.15,261.62 L504.79,261.61 L505.43,261.60 L506.07,261.60 L506.71,261.61 L507.35,261.62 L507.99,261.64 L508.63,261.67 L509.27,261.70 L509.91,261.75 L510.55,261.79 L511.19,261.85 L511.83,261.91 L512.47,261.98 L513.11,262.06 L513.75,262.14 L514.39,262.24 L515.03,262.33 L515.67,262.44 L516.31,262.55 L516.95,262.67 L517.59,262.79 L518.23,262.93 L518.87,263.06 L519.51,263.21 L520.15,263.36 L520.79,263.52 L521.43,263.69 L522.07,263.86 L522.71,264.04 L523.34,264.23 L523.98,264.42 L524.62,264.62 L525.26,264.82 L525.90,265.03 L526.54,265.25 L527.18,265.47 L527.82,265.70 L528.46,265.94 L529.10,266.18 L529.74,266.43 L530.38,266.69 L531.02,266.95 L531.66,267.21 L532.30,267.49 L532.94,267.76 L533.58,268.05 L534.22,268.34 L534.86,268.63 L535.50,268.93 L536.14,269.24 L536.78,269.55 L537.42,269.87 L538.06,270.19 L538.70,270.52 L539.34,270.85 L539.98,271.19 L540.62,271.53 L541.26,271.88 L541.90,272.23 L542.54,272.59 L543.18,272.95 L543.82,273.32 L544.46,273.69 L545.10,274.06 L545.74,274.44 L546.38,274.83 L547.02,275.22 L547.66,275.61 L548.30,276.01 L548.94,276.41 L549.58,276.81 L550.22,277.22 L550.85,277.64 L551.49,278.05 L552.13,278.47 L552.77,278.90 L553.41,279.32 L554.05,279.75 L554.69,280.19 L555.33,280.62 L555.97,281.06 L556.61,281.51 L557.25,281.95 L557.89,282.40 L558.53,282.85 L559.17,283.31 L559.81,283.77 L560.45,284.22 L561.09,284.69 L561.73,285.15 L562.37,285.62 L563.01,286.09 L563.65,286.56 L564.29,287.03 L564.93,287.51 L565.57,287.98 L566.21,288.46 L566.85,288.94 L567.49,289.42 L568.13,289.91 L568.77,290.39 L569.41,290.88 L570.05,291.36 L570.69,291.85 L571.33,292.34 L571.97,292.83 L572.61,293.32 L573.25,293.82 L573.89,294.31 L574.53,294.80 L575.17,295.30 L575.81,295.79 L576.45,296.29 L577.09,296.79 L577.73,297.28 L578.36,297.78 L579.00,298.28 L579.64,298.77 L580.28,299.27 L580.92,299.77 L581.56,300.26 L582.20,300.76 L582.84,301.26 L583.48,301.75 L584.12,302.25 L584.76,302.74 L585.40,303.24 L586.04,303.73 L586.68,304.22 L587.32,304.72 L587.96,305.21 L588.60,305.70 L589.24,306.19 L589.88,306.68 L590.52,307.16 L591.16,307.65 L591.80,308.14 L592.44,308.62 L593.08,309.10 L593.72,309.58 L594.36,310.06 L595.00,310.54 L595.64,311.02 L596.28,311.49 L596.92,311.97 L597.56,312.44 L598.20,312.91 L598.84,313.38 L599.48,313.84 L600.12,314.31 L600.76,314.77 L601.40,315.23 L602.04,315.69 L602.68,316.14 L603.32,316.60 L603.96,317.05 L604.60,317.50 L605.23,317.95 L605.87,318.39 L606.51,318.83 L607.15,319.27 L607.79,319.71 L608.43,320.15 L609.07,320.58 L609.71,321.01 L610.35,321.44 L610.99,321.86 L611.63,322.29 L612.27,322.71 L612.91,323.12 L613.55,323.54 L614.19,323.95 L614.83,324.36 L615.47,324.76 L616.11,325.17 L616.75,325.57 L617.39,325.96 L618.03,326.36 L618.67,326.75 L619.31,327.14 L619.95,327.53 L620.59,327.91 L621.23,328.29 L621.87,328.66 L622.51,329.04 L623.15,329.41 L623.79,329.78 L624.43,330.14 L625.07,330.50 L625.71,330.86 L626.35,331.22 L626.99,331.57 L627.63,331.92 L628.27,332.26 L628.91,332.61 L629.55,332.95 L630.19,333.28 L630.83,333.62 L631.47,333.95 L632.11,334.27 L632.74,334.60 L633.38,334.92 L634.02,335.24 L634.66,335.55 L635.30,335.86 L635.94,336.17 L636.58,336.47 L637.22,336.78 L637.86,337.07 L638.50,337.37 L639.14,337.66 L639.78,337.95 L640.42,338.24 L641.06,338.52 L641.70,338.80 L642.34,339.08 L642.98,339.35 L643.62,339.62 L644.26,339.89 L644.90,340.15 L645.54,340.41 L646.18,340.67 L646.82,340.93 L647.46,341.18 L648.10,341.43 L648.74,341.67 L649.38,341.92 L650.02,342.16 L650.66,342.39 L651.30,342.63 L651.94,342.86 L652.58,343.09 L653.22,343.31 L653.86,343.54 L654.50,343.76 L655.14,343.97 L655.78,344.19 L656.42,344.40 L657.06,344.61 L657.70,344.81 L658.34,345.01 L658.98,345.21 L659.62,345.41 L660.25,345.61 L660.89,345.80 L661.53,345.99 L662.17,346.17 L662.81,346.36 L663.45,346.54 L664.09,346.72 L664.73,346.89 L665.37,347.07 L666.01,347.24 L666.65,347.41 L667.29,347.57 L667.93,347.74 L668.57,347.90 L669.21,348.06 L669.85,348.21 L670.49,348.37 L671.13,348.52 L671.77,348.67 L672.41,348.82 L673.05,348.96 L673.69,349.10 L674.33,349.24 L674.97,349.38 L675.61,349.52 L676.25,349.65 L676.89,349.78 L677.53,349.91 L678.17,350.04 L678.81,350.16 L679.45,350.29 L680.09,350.41" stroke="#14EC14"/>
<path d="M410.41,354.60 L410.58,354.60 L410.75,354.60 L410.92,354.60 L411.09,354.60 L411.26,354.60 L411.43,354.60 L411.60,354.60 L411.77,354.60 L411.94,354.60 L412.11,354.60 L412.28,354.60 L412.45,354.55 L412.62,354.48 L412.79,354.41 L412.96,354.33 L413.13,354.25 L413.30,354.16 L413.47,354.08 L413.64,353.99 L413.81,353.89 L413.98,353.80 L414.15,353.70 L414.32,353.59 L414.49,353.49 L414.66,353.38 L414.83,353.26 L415.00,353.14 L415.17,353.02 L415.34,352.89 L415.51,352.76 L415.68,352.63 L415.85,352.49 L416.02,352.34 L416.19,352.19 L416.36,352.04 L416.53,351.88 L416.70,351.71 L416.87,351.54 L417.04,351.37 L417.21,351.19 L417.38,351.00 L417.55,350.81 L417.72,350.61 L417.89,350.41 L418.06,350.19 L418.23,349.98 L418.40,349.75 L418.57,349.52 L418.74,349.28 L418.91,349.04 L419.08,348.79 L419.25,348.53 L419.42,348.26 L419.59,347.99 L419.76,347.70 L419.93,347.41 L420.10,347.11 L420.27,346.81 L420.44,346.49 L420.62,346.17 L420.79,345.83 L420.96,345.49 L421.13,345.14 L421.30,344.78 L421.47,344.41 L421.64,344.02 L421.81,343.63 L421.98,343.23 L422.15,342.82 L422.32,342.40 L422.49,341.97 L422.66,341.52 L422.83,341.07 L423.00,340.60 L423.17,340.12 L423.34,339.63 L423.51,339.13 L423.68,338.62 L423.85,338.09 L424.02,337.56 L424.19,337.01 L424.36,336.44 L424.53,335.87 L424.70,335.28 L424.87,334.68 L425.04,334.06 L425.21,333.43 L425.38,332.79 L425.55,332.13 L425.72,331.46 L425.89,330.78 L426.06,330.08 L426.23,329.36 L426.40,328.64 L426.57,327.89 L426.74,327.14 L426.91,326.36 L427.08,325.57 L427.25,324.77 L427.42,323.95 L427.59,323.12 L427.76,322.27 L427.93,321.40 L428.10,320.52 L428.27,319.62 L428.44,318.71 L428.61,317.78 L428.78,316.83 L428.95,315.87 L429.12,314.89 L429.29,313.90 L429.46,312.89 L429.63,311.86 L429.80,310.82 L429.97,309.76 L430.14,308.68 L430.31,307.59 L430.48,306.48 L430.65,305.35 L430.82,304.21 L430.99,303.05 L431.16,301.88 L431.33,300.68 L431.50,299.48 L431.67,298.25 L431.84,297.01 L432.01,295.76 L432.18,294.48 L432.35,293.20 L432.52,291.89 L432.69,290.57 L432.86,289.24 L433.03,287.89 L433.20,286.53 L433.37,285.15 L433.54,283.75 L433.71,282.34 L433.88,280.92 L434.05,279.48 L434.22,278.03 L434.39,276.57 L434.56,275.09 L434.73,273.60 L434.90,272.10 L435.07,270.58 L435.24,269.05 L435.41,267.51 L435.58,265.96 L435.75,264.40 L435.92,262.82 L436.09,261.24 L436.26,259.64 L436.43,258.04 L436.60,256.43 L436.77,254.80 L436.94,253.17 L437.11,251.53 L437.28,249.89 L437.45,248.23 L437.62,246.57 L437.79,244.91 L437.96,243.23 L438.13,241.56 L438.30,239.87 L438.47,238.19 L438.64,236.50 L438.81,234.80 L438.98,233.11 L439.15,231.41 L439.32,229.71 L439.49,228.01 L439.66,226.31 L439.83,224.61 L440.01,222.91 L440.18,221.21 L440.35,219.51 L440.52,217.82 L440.69,216.13 L440.86,214.44 L441.03,212.76 L441.20,211.09 L441.37,209.42 L441.54,207.75 L441.71,206.09 L441.88,204.45 L442.05,202.80 L442.22,201.17 L442.39,199.55 L442.56,197.94 L442.73,196.34 L442.90,194.75 L443.07,193.18 L443.24,191.61 L443.41,190.07 L443.58,188.53 L443.75,187.01 L443.92,185.51 L444.09,184.02 L444.26,182.55 L444.43,181.10 L444.60,179.67 L444.77,178.25 L444.94,176.86 L445.11,175.49 L445.28,174.13 L445.45,172.80 L445.62,171.49 L445.79,170.21 L445.96,168.94 L446.13,167.71 L446.30,166.49 L446.47,165.30 L446.64,164.14 L446.81,163.00 L446.98,161.90 L447.15,160.81 L447.32,159.76 L447.49,158.73 L447.66,157.74 L447.83,156.77 L448.00,155.83 L448.17,154.93 L448.34,154.05 L448.51,153.21 L448.68,152.40 L448.85,151.62 L449.02,150.87 L449.19,150.16 L449.36,149.48 L449.53,148.83 L449.70,148.21 L449.87,147.64 L450.04,147.09 L450.21,146.58 L450.38,146.11 L450.55,145.67 L450.72,145.27 L450.89,144.90 L451.06,144.57 L451.23,144.27 L451.40,144.01 L451.57,143.79 L451.74,143.61 L451.91,143.46 L452.08,143.34 L452.25,143.27 L452.42,143.23 L452.59,143.23 L452.76,143.27 L452.93,143.34 L453.10,143.45 L453.27,143.60 L453.44,143.79 L453.61,144.01 L453.78,144.27 L453.95,144.57 L454.12,144.90 L454.29,145.28 L454.46,145.68 L454.63,146.13 L454.80,146.61 L454.97,147.13 L455.14,147.68 L455.31,148.27 L455.48,148.89 L455.65,149.55 L455.82,150.24 L455.99,150.97 L456.16,151.73 L456.33,152.52 L456.50,153.34 L456.67,154.20 L456.84,155.09 L457.01,156.01 L457.18,156.97 L457.35,157.95 L457.52,158.96 L457.69,160.00 L457.86,161.08 L458.03,162.18 L458.20,163.30 L458.37,164.46 L458.54,165.64 L458.71,166.85 L458.88,168.08 L459.05,169.34 L459.22,170.63 L459.40,171.93 L459.57,173.26 L459.74,174.62 L459.91,175.99 L460.08,177.39 L460.25,178.80 L460.42,180.24 L460.59,181.70 L460.76,183.17 L460.93,184.66 L461.10,186.17 L461.27,187.70 L461.44,189.24 L461.61,190.80 L461.78,192.37 L461.95,193.95 L462.12,195.55 L462.29,197.16 L462.46,198.79 L462.63,200.42 L462.80,202.06 L462.97,203.72 L463.14,205.38 L463.31,207.05 L463.48,208.73 L463.65,210.41 L463.82,212.11 L463.99,213.80 L464.16,215.51 L464.33,217.21 L464.50,218.92 L464.67,220.63 L464.84,222.35 L465.01,224.07 L465.18,225.78 L465.35,227.50 L465.52,229.22 L465.69,230.94 L465.86,232.66 L466.03,234.37 L466.20,236.08 L466.37,237.79 L466.54,239.50 L466.71,241.20 L466.88,242.89 L467.05,244.58 L467.22,246.27 L467.39,247.95 L467.56,249.62 L467.73,251.28 L467.90,252.94 L468.07,254.59 L468.24,256.23 L468.41,257.86 L468.58,259.48 L468.75,261.10 L468.92,262.70 L469.09,264.29 L469.26,265.87 L469.43,267.44 L469.60,268.99 L469.77,270.54 L469.94,272.07 L470.11,273.59 L470.28,275.10 L470.45,276.59 L470.62,278.07 L470.79,279.54 L470.96,280.99 L471.13,282.42 L471.30,283.85 L471.47,285.25 L471.64,286.65 L471.81,288.02 L471.98,289.39 L472.15,290.73 L472.32,292.06 L472.49,293.38 L472.66,294.68 L472.83,295.96 L473.00,297.23 L473.17,298.48 L473.34,299.71 L473.51,300.93 L473.68,302.13 L473.85,303.31 L474.02,304.48 L474.19,305.63 L474.36,306.76 L474.53,307.88 L474.70,308.98 L474.87,310.06 L475.04,311.13 L475.21,312.18 L475.38,313.21 L475.55,314.23 L475.72,315.23 L475.89,316.21 L476.06,317.18 L476.23,318.13 L476.40,319.06 L476.57,319.98 L476.74,320.88 L476.91,321.76 L477.08,322.63 L477.25,323.48 L477.42,324.32 L477.59,325.14 L477.76,325.94 L477.93,326.73 L478.10,327.50 L478.27,328.26 L478.44,329.01 L478.62,329.73 L478.79,330.45 L478.96,331.15 L479.13,331.83 L479.30,332.50 L479.47,333.16 L479.64,333.80 L479.81,334.43 L479.98,335.04 L480.15,335.64 L480.32,336.23 L480.49,336.80 L480.66,337.36 L480.83,337.91 L481.00,338.44 L481.17,338.97 L481.34,339.48 L481.51,339.97 L481.68,340.46 L481.85,340.93 L482.02,341.40 L482.19,341.85 L482.36,342.29 L482.53,342.72 L482.70,343.14 L482.87,343.54 L483.04,343.94 L483.21,344.33 L483.38,344.71 L483.55,345.07 L483.72,345.43 L483.89,345.78 L484.06,346.12 L484.23,346.45 L484.40,346.77 L484.57,347.08 L484.74,347.38 L484.91,347.68 L485.08,347.96 L485.25,348.24 L485.42,348.51 L485.59,348.77 L485.76,349.03 L485.93,349.28 L486.10,349.52 L486.27,349.75 L486.44,349.98 L486.61,350.20 L486.78,350.41 L486.95,350.62 L487.12,350.82 L487.29,351.01 L487.46,351.20 L487.63,351.38 L487.80,351.56 L487.97,351.73 L488.14,351.89 L488.31,352.06 L488.48,352.21 L488.65,352.36 L488.82,352.51 L488.99,352.65 L489.16,352.78 L489.33,352.92 L489.50,353.04 L489.67,353.17 L489.84,353.28 L490.01,353.40 L490.18,353.51 L490.35,353.62 L490.52,353.72 L490.69,353.82 L490.86,353.92 L491.03,354.01 L491.20,354.10 L491.37,354.19 L491.54,354.27 L491.71,354.35 L491.88,354.43 L492.05,354.51 L492.22,354.58 L492.39,354.60 L492.56,354.60 L492.73,354.60 L492.90,354.60 L493.07,354.60 L493.24,354.60 L493.41,354.60 L493.58,354.60 L493.75,354.60 L493.92,354.60 L494.09,354.60 L494.26,354.60 L494.43,354.60 L494.60,354.60 L494.77,354.60 L494.94,354.60 L495.11,354.60 L495.28,354.60" stroke="#8010F4"/>
</g>
<path d="M360.8,72.2 V356.3 H680.8" fill="none" stroke="#111" stroke-width="1.5"/>
<path d="M680.8,356.3 V72.2 H565.3" fill="none" stroke="#111" stroke-width="1.9"/>
<path d="M357.6,72.2 H363.8" fill="none" stroke="#111" stroke-width="1.4"/>
<path d="M360.8,356.3 h-3 M360.8,332.62 h-1.6 M360.8,308.95 h-3 M360.8,285.27 h-1.6 M360.8,261.6 h-3 M360.8,237.93 h-1.6 M360.8,214.25 h-3 M360.8,190.58 h-1.6 M360.8,166.9 h-3 M360.8,143.22 h-1.6 M360.8,119.55 h-3 M360.8,95.88 h-1.6 M360.8,72.2 h-3 M373.9,356.3 v3 M393.89,356.3 v1.8 M413.87,356.3 v3 M433.86,356.3 v1.8 M453.85,356.3 v3 M473.83,356.3 v1.8 M493.82,356.3 v3 M513.8,356.3 v1.8 M533.79,356.3 v3 M553.78,356.3 v1.8 M573.76,356.3 v3 M593.75,356.3 v1.8 M613.73,356.3 v3 M633.72,356.3 v1.8 M653.71,356.3 v3 M673.69,356.3 v1.8" stroke="#111" stroke-width="1.4" fill="none"/>
<text x="354.2" y="361.6" text-anchor="end" style="font-family:'Liberation Sans',Arial,sans-serif;font-size:18.3px" fill="#111" stroke="#111" stroke-width="0.15">0</text>
<text x="354.2" y="314.25" text-anchor="end" style="font-family:'Liberation Sans',Arial,sans-serif;font-size:18.3px" fill="#111" stroke="#111" stroke-width="0.15">2</text>
<text x="354.2" y="266.9" text-anchor="end" style="font-family:'Liberation Sans',Arial,sans-serif;font-size:18.3px" fill="#111" stroke="#111" stroke-width="0.15">4</text>
<text x="354.2" y="219.55" text-anchor="end" style="font-family:'Liberation Sans',Arial,sans-serif;font-size:18.3px" fill="#111" stroke="#111" stroke-width="0.15">6</text>
<text x="354.2" y="172.2" text-anchor="end" style="font-family:'Liberation Sans',Arial,sans-serif;font-size:18.3px" fill="#111" stroke="#111" stroke-width="0.15">8</text>
<text x="354.2" y="124.85" text-anchor="end" style="font-family:'Liberation Sans',Arial,sans-serif;font-size:18.3px" fill="#111" stroke="#111" stroke-width="0.15">10</text>
<text x="354.2" y="77.5" text-anchor="end" style="font-family:'Liberation Sans',Arial,sans-serif;font-size:18.3px" fill="#111" stroke="#111" stroke-width="0.15">12</text>
<text x="373.9" y="375.3" text-anchor="middle" style="font-family:'Liberation Sans',Arial,sans-serif;font-size:18.3px" fill="#111" stroke="#111" stroke-width="0.15">3</text>
<text x="413.87" y="375.3" text-anchor="middle" style="font-family:'Liberation Sans',Arial,sans-serif;font-size:18.3px" fill="#111" stroke="#111" stroke-width="0.15">6</text>
<text x="453.85" y="375.3" text-anchor="middle" style="font-family:'Liberation Sans',Arial,sans-serif;font-size:18.3px" fill="#111" stroke="#111" stroke-width="0.15">9</text>
<text x="493.82" y="375.3" text-anchor="middle" style="font-family:'Liberation Sans',Arial,sans-serif;font-size:18.3px" fill="#111" stroke="#111" stroke-width="0.15">12</text>
<text x="533.79" y="375.3" text-anchor="middle" style="font-family:'Liberation Sans',Arial,sans-serif;font-size:18.3px" fill="#111" stroke="#111" stroke-width="0.15">15</text>
<text x="573.76" y="375.3" text-anchor="middle" style="font-family:'Liberation Sans',Arial,sans-serif;font-size:18.3px" fill="#111" stroke="#111" stroke-width="0.15">18</text>
<text x="613.73" y="375.3" text-anchor="middle" style="font-family:'Liberation Sans',Arial,sans-serif;font-size:18.3px" fill="#111" stroke="#111" stroke-width="0.15">21</text>
<text x="653.71" y="375.3" text-anchor="middle" style="font-family:'Liberation Sans',Arial,sans-serif;font-size:18.3px" fill="#111" stroke="#111" stroke-width="0.15">24</text>
<text transform="translate(327.8,214) rotate(-90)" text-anchor="middle" style="font-family:'Liberation Sans',Arial,sans-serif;font-size:18.6px" fill="#111" stroke="#111" stroke-width="0.15">Count</text>
<text x="438.4" y="407.8" style="font-family:'Liberation Sans',Arial,sans-serif;font-size:18.7px" fill="#111" stroke="#111" stroke-width="0.15">Mobility (cm<tspan dy="-7.5" font-size="13">2</tspan><tspan dy="7.5">V</tspan><tspan dy="-7.5" font-size="13">−1</tspan><tspan dy="7.5">s</tspan><tspan dy="-7.5" font-size="13">−1</tspan><tspan dy="7.5">)</tspan></text>
<rect x="566.9" y="76.9" width="41.6" height="19.4" fill="#FDBCDD" stroke="#F6B0D2" stroke-width="1"/>
<text x="615.3" y="92.9" style="font-family:'Liberation Sans',Arial,sans-serif;font-size:18.7px" fill="#111" stroke="#111" stroke-width="0.15">1-layer</text>
<rect x="566.9" y="99.7" width="41.6" height="19.4" fill="#FDDBB9" stroke="#F5D0AC" stroke-width="1"/>
<text x="615.3" y="115.7" style="font-family:'Liberation Sans',Arial,sans-serif;font-size:18.7px" fill="#111" stroke="#111" stroke-width="0.15">2-layer</text>
<rect x="566.9" y="122.7" width="41.6" height="19.4" fill="#BFF8BC" stroke="#B2EEB0" stroke-width="1"/>
<text x="615.3" y="138.7" style="font-family:'Liberation Sans',Arial,sans-serif;font-size:18.7px" fill="#111" stroke="#111" stroke-width="0.15">3-layer</text>
<rect x="566.9" y="146.0" width="41.6" height="19.4" fill="#BFFBFB" stroke="#B2F0F2" stroke-width="1"/>
<text x="615.3" y="162" style="font-family:'Liberation Sans',Arial,sans-serif;font-size:18.7px" fill="#111" stroke="#111" stroke-width="0.15">4-layer</text>
<rect x="566.9" y="168.8" width="41.6" height="19.4" fill="#DDC1FB" stroke="#D2B4F6" stroke-width="1"/>
<text x="615.3" y="184.8" style="font-family:'Liberation Sans',Arial,sans-serif;font-size:18.7px" fill="#111" stroke="#111" stroke-width="0.15">5-layer</text>
<rect x="363.8" y="0" width="201" height="71.4" fill="#fff"/>
<polygon points="391.7,25 440.6,53.5 440.6,65.3 391.7,35.9" fill="#9597B8" />
<polygon points="391.7,33.6 440.6,62.7 440.6,65.3 391.7,35.9" fill="#8A82BA" />
<polygon points="391.7,35.9 440.6,65.3 440.6,72.8 391.7,42.9" fill="#8E2EAE" />
<polygon points="391.7,42.9 440.6,72.8 440.6,100.3 391.7,69.6" fill="#6C6C6C" />
<polygon points="440.6,53.5 551.4,38.9 551.4,41.9 440.6,56.5" fill="#D4D6DA" />
<polygon points="440.6,56.5 551.4,41.9 551.4,50.4 440.6,65" fill="#BDB9EF" />
<polygon points="440.6,65 551.4,50.4 551.4,58 440.6,72.6" fill="#D050F0" />
<polygon points="440.6,72.6 551.4,58 551.4,85.7 440.6,100.3" fill="#A8A8A8" />
<polygon points="391.7,25 502.3,8.4 551.4,38.9 440.6,53.5" fill="#D3E6F8" />
<polygon points="419.95,23.66 466.41,16.76 489.45,30.76 442.95,37.27" fill="#C8B2F2" />
<polygon points="443.59,33.59 482.33,28.09 504.63,43.26 468.07,48.11" fill="#B2E2B6" />
<polygon points="441.4,52.9 470,49.6 470,55 441.4,58.3" fill="#CFD0CC" />
<polygon points="441.4,52.9 470,49.6 470,52.2 441.4,55.5" fill="#CDBF80" />
<polygon points="406.4,32.1 436.7,28.1 470,49.6 441.4,52.9" fill="#E5D78E" />
<polygon points="505.8,45.2 535,41 535,46.4 505.8,50.6" fill="#CFD0CC" />
<polygon points="505.8,45.2 535,41 535,43.6 505.8,47.8" fill="#CDBF80" />
<polygon points="473.3,22.5 505.8,45.2 505.8,47.8 473.3,25.1" fill="#C9BD86" />
<polygon points="473.3,22.5 500.8,18.3 535,41 505.8,45.2" fill="#E5D78E" />
<polygon points="391.7,25 502.3,8.4 551.4,38.9 440.6,53.5" fill="#D8ECFF" fill-opacity="0.18"/>
<text x="441.8" y="9.8" style="font-family:'Liberation Sans',Arial,sans-serif;font-size:10px;font-weight:bold" fill="#1a1a1a">HfO<tspan font-size="7.4" dy="2.9" dx="0.3">2</tspan></text>
<text x="417.6" y="35.8" style="font-family:'Liberation Sans',Arial,sans-serif;font-size:10.8px;font-weight:bold" fill="#7787AA">Drain</text>
<text x="484.6" y="27.4" style="font-family:'Liberation Sans',Arial,sans-serif;font-size:10.6px;font-weight:bold" fill="#7787AA">Source</text>
<text x="466.8" y="45.9" style="font-family:'Liberation Sans',Arial,sans-serif;font-size:10.6px;font-weight:bold" fill="#7787AA">WS<tspan font-size="7.5" dy="2.2">2</tspan></text>
<text x="457.6" y="80.6" style="font-family:'Liberation Serif',serif;font-size:10.8px;font-weight:bold" fill="#1a1a1a">n<tspan font-size="7" dy="-4">+</tspan><tspan dy="4">-Si</tspan></text>
<path d="M433.6,39.3 L405.7,45" stroke="#6D7C9C" stroke-width="1.4" fill="none"/>
<path d="M405.7,45 L380,49.3 L374.7,50 V80 M374.7,84.2 V100" stroke="#111" stroke-width="1.4" fill="none"/>
<path d="M365.8,80 H383.3 M370,84.2 H379.2" stroke="#111" stroke-width="1.6" fill="none"/>
<path d="M368.2,101.6 H381.2 Q374.7,106.5 368.2,101.6 Z" fill="#dcdcdc"/>
<path d="M487.5,84.7 L510,100 V116.3 M510,120.8 V137.5" stroke="#111" stroke-width="1.3" fill="none"/>
<path d="M500.8,116.3 H519.7 M505,120.8 H515" stroke="#111" stroke-width="1.6" fill="none"/>
<path d="M503.5,138.3 H516.5 Q510,143.2 503.5,138.3 Z" fill="#dcdcdc"/>
<path d="M512.5,30.8 L552,24.8" stroke="#6D7C9C" stroke-width="1.3" fill="none"/>
<path d="M552,24.8 L557.5,24.2 V53.3" stroke="#111" stroke-width="1.3" fill="none"/>
<path d="M552,54.6 H563 Q557.5,58.8 552,54.6 Z" fill="#dcdcdc"/>
<text x="389.8" y="92.2" style="font-family:'Liberation Sans',Arial,sans-serif;font-size:10.8px;font-weight:bold;font-style:italic" fill="#111">V<tspan font-size="7.3" dy="2.3" fill="#222" font-style="normal" font-weight="bold">ds</tspan></text>
<text x="529.8" y="130.2" style="font-family:'Liberation Sans',Arial,sans-serif;font-size:10.8px;font-weight:bold;font-style:italic" fill="#111">V<tspan font-size="7.3" dy="2.3" fill="#222" font-style="normal" font-weight="bold">gs</tspan></text>
</svg>
</body></html>
